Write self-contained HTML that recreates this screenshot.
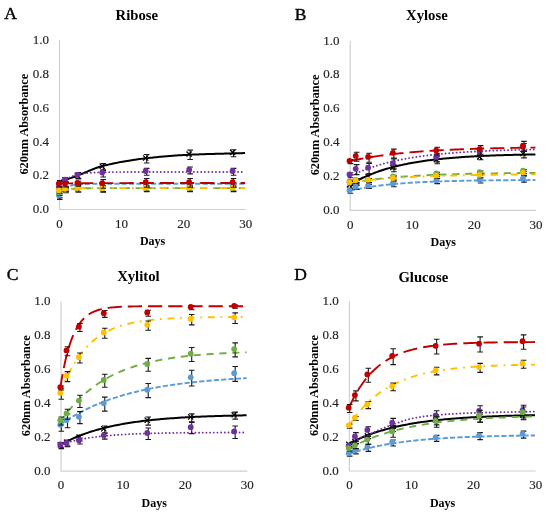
<!DOCTYPE html>
<html><head><meta charset="utf-8"><title>Absorbance charts</title>
<style>
html,body{margin:0;padding:0;background:#fff;}
body{width:550px;height:518px;overflow:hidden;font-family:"Liberation Serif", serif;}
svg{display:block;will-change:transform;}
</style></head>
<body>
<svg width="550" height="518" viewBox="0 0 550 518">
<rect width="550" height="518" fill="#fff"/>
<text x="4.3" y="19.1" font-size="17.5" font-family='"Liberation Serif", serif' fill="#000" stroke="#000" stroke-width="0.4">A</text>
<text x="136.8" y="19.9" font-size="14.7" font-weight="bold" text-anchor="middle" font-family='"Liberation Serif", serif' fill="#000">Ribose</text>
<path d="M59.5 40V209.5H245.7" fill="none" stroke="#d0d0d0" stroke-width="1.2"/>
<text x="48.9" y="213.3" font-size="13" text-anchor="end" font-family='"Liberation Serif", serif' fill="#222222" stroke="#222" stroke-width="0.15">0.0</text>
<text x="48.9" y="179.4" font-size="13" text-anchor="end" font-family='"Liberation Serif", serif' fill="#222222" stroke="#222" stroke-width="0.15">0.2</text>
<text x="48.9" y="145.5" font-size="13" text-anchor="end" font-family='"Liberation Serif", serif' fill="#222222" stroke="#222" stroke-width="0.15">0.4</text>
<text x="48.9" y="111.6" font-size="13" text-anchor="end" font-family='"Liberation Serif", serif' fill="#222222" stroke="#222" stroke-width="0.15">0.6</text>
<text x="48.9" y="77.7" font-size="13" text-anchor="end" font-family='"Liberation Serif", serif' fill="#222222" stroke="#222" stroke-width="0.15">0.8</text>
<text x="48.9" y="43.8" font-size="13" text-anchor="end" font-family='"Liberation Serif", serif' fill="#222222" stroke="#222" stroke-width="0.15">1.0</text>
<text x="59.5" y="227.8" font-size="13" text-anchor="middle" font-family='"Liberation Serif", serif' fill="#222222" stroke="#222" stroke-width="0.15">0</text>
<text x="121.57" y="227.8" font-size="13" text-anchor="middle" font-family='"Liberation Serif", serif' fill="#222222" stroke="#222" stroke-width="0.15">10</text>
<text x="183.63" y="227.8" font-size="13" text-anchor="middle" font-family='"Liberation Serif", serif' fill="#222222" stroke="#222" stroke-width="0.15">20</text>
<text x="245.7" y="227.8" font-size="13" text-anchor="middle" font-family='"Liberation Serif", serif' fill="#222222" stroke="#222" stroke-width="0.15">30</text>
<text x="152.6" y="245.3" font-size="12" font-weight="bold" text-anchor="middle" font-family='"Liberation Serif", serif' fill="#000">Days</text>
<text transform="translate(28.2 124.15) rotate(-90)" font-size="12.3" font-weight="bold" text-anchor="middle" font-family='"Liberation Serif", serif' fill="#000">620nm Absorbance</text>
<path d="M58.8 181.19 L60.35 180.87 L61.9 180.55 L63.45 180.21 L65.01 179.84 L66.56 179.41 L68.11 178.93 L69.66 178.41 L71.21 177.87 L72.77 177.31 L74.32 176.74 L75.87 176.16 L77.42 175.6 L78.97 175.03 L80.52 174.43 L82.07 173.8 L83.63 173.16 L85.18 172.51 L86.73 171.84 L88.28 171.18 L89.83 170.53 L91.38 169.88 L92.94 169.25 L94.49 168.64 L96.04 168.06 L97.59 167.51 L99.14 166.99 L100.69 166.53 L102.25 166.11 L103.8 165.72 L105.35 165.34 L106.9 164.97 L108.45 164.61 L110 164.26 L111.56 163.91 L113.11 163.58 L114.66 163.25 L116.21 162.93 L117.76 162.62 L119.31 162.31 L120.87 162.02 L122.42 161.73 L123.97 161.45 L125.52 161.18 L127.07 160.91 L128.62 160.66 L130.18 160.41 L131.73 160.16 L133.28 159.93 L134.83 159.7 L136.38 159.48 L137.94 159.27 L139.49 159.06 L141.04 158.87 L142.59 158.67 L144.14 158.49 L145.69 158.31 L147.25 158.14 L148.8 157.97 L150.35 157.8 L151.9 157.64 L153.45 157.47 L155 157.31 L156.56 157.16 L158.11 157.01 L159.66 156.86 L161.21 156.71 L162.76 156.57 L164.31 156.43 L165.86 156.3 L167.42 156.17 L168.97 156.04 L170.52 155.91 L172.07 155.79 L173.62 155.68 L175.17 155.57 L176.73 155.46 L178.28 155.35 L179.83 155.26 L181.38 155.16 L182.93 155.07 L184.48 154.98 L186.04 154.9 L187.59 154.82 L189.14 154.75 L190.69 154.68 L192.24 154.62 L193.79 154.55 L195.35 154.49 L196.9 154.43 L198.45 154.38 L200 154.32 L201.55 154.27 L203.1 154.22 L204.66 154.17 L206.21 154.12 L207.76 154.07 L209.31 154.03 L210.86 153.98 L212.41 153.94 L213.97 153.9 L215.52 153.86 L217.07 153.81 L218.62 153.77 L220.17 153.73 L221.72 153.69 L223.28 153.65 L224.83 153.61 L226.38 153.57 L227.93 153.53 L229.48 153.48 L231.03 153.44 L232.59 153.4 L234.14 153.35 L235.69 153.31 L237.24 153.27 L238.79 153.22 L240.34 153.18 L241.9 153.14 L243.45 153.1 L245 153.06" fill="none" stroke="#000000" stroke-width="2.0" stroke-linecap="butt" stroke-linejoin="round"/>
<path d="M59.8 180.46V199.46M57 180.46h5.6M57 199.46h5.6M66.01 178.64V182.64M63.21 178.64h5.6M63.21 182.64h5.6M78.42 174.4V178.4M75.62 174.4h5.6M75.62 178.4h5.6M103.25 163.58V170.58M100.45 163.58h5.6M100.45 170.58h5.6M146.69 154.57V162.97M143.89 154.57h5.6M143.89 162.97h5.6M190.14 150.17V159.57M187.34 150.17h5.6M187.34 159.57h5.6M233.59 149.68V156.68M230.79 149.68h5.6M230.79 156.68h5.6" fill="none" stroke="#1a1a1a" stroke-width="1.1"/>
<path d="M56.2 186.56l5.2 5.2M56.2 191.76l5.2 -5.2" stroke="#000" stroke-width="1.2" fill="none"/>
<path d="M62.41 177.24l5.2 5.2M62.41 182.44l5.2 -5.2" stroke="#000" stroke-width="1.2" fill="none"/>
<path d="M74.82 173l5.2 5.2M74.82 178.2l5.2 -5.2" stroke="#000" stroke-width="1.2" fill="none"/>
<path d="M99.65 163.68l5.2 5.2M99.65 168.88l5.2 -5.2" stroke="#000" stroke-width="1.2" fill="none"/>
<path d="M143.09 155.37l5.2 5.2M143.09 160.57l5.2 -5.2" stroke="#000" stroke-width="1.2" fill="none"/>
<path d="M186.54 151.47l5.2 5.2M186.54 156.67l5.2 -5.2" stroke="#000" stroke-width="1.2" fill="none"/>
<path d="M229.99 149.78l5.2 5.2M229.99 154.98l5.2 -5.2" stroke="#000" stroke-width="1.2" fill="none"/>
<path d="M58.8 187.47 L60.35 185.32 L61.9 183.47 L63.45 181.88 L65.01 180.51 L66.56 179.33 L68.11 178.31 L69.66 177.44 L71.21 176.69 L72.77 176.04 L74.32 175.48 L75.87 175 L77.42 174.59 L78.97 174.24 L80.52 173.93 L82.07 173.67 L83.63 173.44 L85.18 173.24 L86.73 173.08 L88.28 172.93 L89.83 172.81 L91.38 172.7 L92.94 172.61 L94.49 172.53 L96.04 172.46 L97.59 172.4 L99.14 172.35 L100.69 172.31 L102.25 172.27 L103.8 172.24 L105.35 172.21 L106.9 172.19 L108.45 172.17 L110 172.15 L111.56 172.13 L113.11 172.12 L114.66 172.11 L116.21 172.1 L117.76 172.09 L119.31 172.08 L120.87 172.08 L122.42 172.07 L123.97 172.07 L125.52 172.06 L127.07 172.06 L128.62 172.06 L130.18 172.06 L131.73 172.05 L133.28 172.05 L134.83 172.05 L136.38 172.05 L137.94 172.05 L139.49 172.05 L141.04 172.05 L142.59 172.05 L144.14 172.04 L145.69 172.04 L147.25 172.04 L148.8 172.04 L150.35 172.04 L151.9 172.04 L153.45 172.04 L155 172.04 L156.56 172.04 L158.11 172.04 L159.66 172.04 L161.21 172.04 L162.76 172.04 L164.31 172.04 L165.86 172.04 L167.42 172.04 L168.97 172.04 L170.52 172.04 L172.07 172.04 L173.62 172.04 L175.17 172.04 L176.73 172.04 L178.28 172.04 L179.83 172.04 L181.38 172.04 L182.93 172.04 L184.48 172.04 L186.04 172.04 L187.59 172.04 L189.14 172.04 L190.69 172.04 L192.24 172.04 L193.79 172.04 L195.35 172.04 L196.9 172.04 L198.45 172.04 L200 172.04 L201.55 172.04 L203.1 172.04 L204.66 172.04 L206.21 172.04 L207.76 172.04 L209.31 172.04 L210.86 172.04 L212.41 172.04 L213.97 172.04 L215.52 172.04 L217.07 172.04 L218.62 172.04 L220.17 172.04 L221.72 172.04 L223.28 172.04 L224.83 172.04 L226.38 172.04 L227.93 172.04 L229.48 172.04 L231.03 172.04 L232.59 172.04 L234.14 172.04 L235.69 172.04 L237.24 172.04 L238.79 172.04 L240.34 172.04 L241.9 172.04 L243.45 172.04 L245 172.04" fill="none" stroke="#7030A0" stroke-width="1.9" stroke-linecap="round" stroke-linejoin="round" stroke-dasharray="0.01 3.67"/>
<path d="M59.8 186.27V190.27M57 186.27h5.6M57 190.27h5.6M66.01 178.47V182.47M63.21 178.47h5.6M63.21 182.47h5.6M78.42 172.52V178.92M75.62 172.52h5.6M75.62 178.92h5.6M103.25 169.75V176.95M100.45 169.75h5.6M100.45 176.95h5.6M146.69 168.42V175.22M143.89 168.42h5.6M143.89 175.22h5.6M190.14 167.07V173.87M187.34 167.07h5.6M187.34 173.87h5.6M233.59 168.42V175.22M230.79 168.42h5.6M230.79 175.22h5.6" fill="none" stroke="#1a1a1a" stroke-width="1.1"/>
<circle cx="58.8" cy="187.47" r="2.9" fill="#7030A0"/>
<circle cx="65.01" cy="179.67" r="2.9" fill="#7030A0"/>
<circle cx="77.42" cy="174.92" r="2.9" fill="#7030A0"/>
<circle cx="102.25" cy="172.55" r="2.9" fill="#7030A0"/>
<circle cx="145.69" cy="171.02" r="2.9" fill="#7030A0"/>
<circle cx="189.14" cy="169.67" r="2.9" fill="#7030A0"/>
<circle cx="232.59" cy="171.02" r="2.9" fill="#7030A0"/>
<path d="M58.8 194.25 L60.35 192.13 L61.9 190.44 L63.45 189.09 L65.01 188.01 L66.56 187.15 L68.11 186.46 L69.66 185.91 L71.21 185.47 L72.77 185.12 L74.32 184.84 L75.87 184.62 L77.42 184.44 L78.97 184.3 L80.52 184.19 L82.07 184.1 L83.63 184.02 L85.18 183.97 L86.73 183.92 L88.28 183.88 L89.83 183.85 L91.38 183.83 L92.94 183.81 L94.49 183.8 L96.04 183.78 L97.59 183.77 L99.14 183.77 L100.69 183.76 L102.25 183.76 L103.8 183.75 L105.35 183.75 L106.9 183.75 L108.45 183.74 L110 183.74 L111.56 183.74 L113.11 183.74 L114.66 183.74 L116.21 183.74 L117.76 183.74 L119.31 183.74 L120.87 183.74 L122.42 183.74 L123.97 183.74 L125.52 183.74 L127.07 183.74 L128.62 183.74 L130.18 183.74 L131.73 183.74 L133.28 183.74 L134.83 183.74 L136.38 183.74 L137.94 183.74 L139.49 183.74 L141.04 183.74 L142.59 183.74 L144.14 183.74 L145.69 183.74 L147.25 183.74 L148.8 183.74 L150.35 183.74 L151.9 183.74 L153.45 183.74 L155 183.74 L156.56 183.74 L158.11 183.74 L159.66 183.74 L161.21 183.74 L162.76 183.74 L164.31 183.74 L165.86 183.74 L167.42 183.74 L168.97 183.74 L170.52 183.74 L172.07 183.74 L173.62 183.74 L175.17 183.74 L176.73 183.74 L178.28 183.74 L179.83 183.74 L181.38 183.74 L182.93 183.74 L184.48 183.74 L186.04 183.74 L187.59 183.74 L189.14 183.74 L190.69 183.74 L192.24 183.74 L193.79 183.74 L195.35 183.74 L196.9 183.74 L198.45 183.74 L200 183.74 L201.55 183.74 L203.1 183.74 L204.66 183.74 L206.21 183.74 L207.76 183.74 L209.31 183.74 L210.86 183.74 L212.41 183.74 L213.97 183.74 L215.52 183.74 L217.07 183.74 L218.62 183.74 L220.17 183.74 L221.72 183.74 L223.28 183.74 L224.83 183.74 L226.38 183.74 L227.93 183.74 L229.48 183.74 L231.03 183.74 L232.59 183.74 L234.14 183.74 L235.69 183.74 L237.24 183.74 L238.79 183.74 L240.34 183.74 L241.9 183.74 L243.45 183.74 L245 183.74" fill="none" stroke="#5B9BD5" stroke-width="1.9" stroke-linecap="butt" stroke-linejoin="round" stroke-dasharray="5.2 2.15"/>
<path d="M59.8 193.89V197.89M57 193.89h5.6M57 197.89h5.6M66.01 186.27V190.27M63.21 186.27h5.6M63.21 190.27h5.6M78.42 184.57V188.57M75.62 184.57h5.6M75.62 188.57h5.6M103.25 183.21V187.21M100.45 183.21h5.6M100.45 187.21h5.6M146.69 182.88V186.88M143.89 182.88h5.6M143.89 186.88h5.6M190.14 182.88V186.88M187.34 182.88h5.6M187.34 186.88h5.6M233.59 182.88V186.88M230.79 182.88h5.6M230.79 186.88h5.6" fill="none" stroke="#1a1a1a" stroke-width="1.1"/>
<circle cx="58.8" cy="195.09" r="2.9" fill="#5B9BD5"/>
<circle cx="65.01" cy="187.47" r="2.9" fill="#5B9BD5"/>
<circle cx="77.42" cy="185.77" r="2.9" fill="#5B9BD5"/>
<circle cx="102.25" cy="184.41" r="2.9" fill="#5B9BD5"/>
<circle cx="145.69" cy="184.07" r="2.9" fill="#5B9BD5"/>
<circle cx="189.14" cy="184.07" r="2.9" fill="#5B9BD5"/>
<circle cx="232.59" cy="184.07" r="2.9" fill="#5B9BD5"/>
<path d="M58.8 192.55 L60.35 191.75 L61.9 191.1 L63.45 190.56 L65.01 190.12 L66.56 189.76 L68.11 189.47 L69.66 189.23 L71.21 189.03 L72.77 188.87 L74.32 188.74 L75.87 188.63 L77.42 188.54 L78.97 188.47 L80.52 188.41 L82.07 188.36 L83.63 188.32 L85.18 188.29 L86.73 188.26 L88.28 188.24 L89.83 188.22 L91.38 188.21 L92.94 188.2 L94.49 188.19 L96.04 188.18 L97.59 188.17 L99.14 188.17 L100.69 188.16 L102.25 188.16 L103.8 188.16 L105.35 188.15 L106.9 188.15 L108.45 188.15 L110 188.15 L111.56 188.15 L113.11 188.15 L114.66 188.15 L116.21 188.15 L117.76 188.15 L119.31 188.14 L120.87 188.14 L122.42 188.14 L123.97 188.14 L125.52 188.14 L127.07 188.14 L128.62 188.14 L130.18 188.14 L131.73 188.14 L133.28 188.14 L134.83 188.14 L136.38 188.14 L137.94 188.14 L139.49 188.14 L141.04 188.14 L142.59 188.14 L144.14 188.14 L145.69 188.14 L147.25 188.14 L148.8 188.14 L150.35 188.14 L151.9 188.14 L153.45 188.14 L155 188.14 L156.56 188.14 L158.11 188.14 L159.66 188.14 L161.21 188.14 L162.76 188.14 L164.31 188.14 L165.86 188.14 L167.42 188.14 L168.97 188.14 L170.52 188.14 L172.07 188.14 L173.62 188.14 L175.17 188.14 L176.73 188.14 L178.28 188.14 L179.83 188.14 L181.38 188.14 L182.93 188.14 L184.48 188.14 L186.04 188.14 L187.59 188.14 L189.14 188.14 L190.69 188.14 L192.24 188.14 L193.79 188.14 L195.35 188.14 L196.9 188.14 L198.45 188.14 L200 188.14 L201.55 188.14 L203.1 188.14 L204.66 188.14 L206.21 188.14 L207.76 188.14 L209.31 188.14 L210.86 188.14 L212.41 188.14 L213.97 188.14 L215.52 188.14 L217.07 188.14 L218.62 188.14 L220.17 188.14 L221.72 188.14 L223.28 188.14 L224.83 188.14 L226.38 188.14 L227.93 188.14 L229.48 188.14 L231.03 188.14 L232.59 188.14 L234.14 188.14 L235.69 188.14 L237.24 188.14 L238.79 188.14 L240.34 188.14 L241.9 188.14 L243.45 188.14 L245 188.14" fill="none" stroke="#70AD47" stroke-width="1.9" stroke-linecap="butt" stroke-linejoin="round" stroke-dasharray="7.2 5.7"/>
<path d="M59.8 191.52V195.52M57 191.52h5.6M57 195.52h5.6M66.01 188.81V192.81M63.21 188.81h5.6M63.21 192.81h5.6M78.42 187.96V191.96M75.62 187.96h5.6M75.62 191.96h5.6M103.25 187.62V191.62M100.45 187.62h5.6M100.45 191.62h5.6M146.69 187.11V191.11M143.89 187.11h5.6M143.89 191.11h5.6M190.14 187.11V191.11M187.34 187.11h5.6M187.34 191.11h5.6M233.59 187.11V191.11M230.79 187.11h5.6M230.79 191.11h5.6" fill="none" stroke="#1a1a1a" stroke-width="1.1"/>
<circle cx="58.8" cy="192.72" r="2.9" fill="#70AD47"/>
<circle cx="65.01" cy="190.01" r="2.9" fill="#70AD47"/>
<circle cx="77.42" cy="189.16" r="2.9" fill="#70AD47"/>
<circle cx="102.25" cy="188.82" r="2.9" fill="#70AD47"/>
<circle cx="145.69" cy="188.31" r="2.9" fill="#70AD47"/>
<circle cx="189.14" cy="188.31" r="2.9" fill="#70AD47"/>
<circle cx="232.59" cy="188.31" r="2.9" fill="#70AD47"/>
<path d="M58.8 190.18 L60.35 189.87 L61.9 189.61 L63.45 189.38 L65.01 189.18 L66.56 189.01 L68.11 188.87 L69.66 188.74 L71.21 188.64 L72.77 188.54 L74.32 188.47 L75.87 188.4 L77.42 188.34 L78.97 188.29 L80.52 188.24 L82.07 188.21 L83.63 188.17 L85.18 188.15 L86.73 188.12 L88.28 188.1 L89.83 188.08 L91.38 188.07 L92.94 188.05 L94.49 188.04 L96.04 188.03 L97.59 188.03 L99.14 188.02 L100.69 188.01 L102.25 188.01 L103.8 188 L105.35 188 L106.9 187.99 L108.45 187.99 L110 187.99 L111.56 187.99 L113.11 187.99 L114.66 187.98 L116.21 187.98 L117.76 187.98 L119.31 187.98 L120.87 187.98 L122.42 187.98 L123.97 187.98 L125.52 187.98 L127.07 187.98 L128.62 187.98 L130.18 187.98 L131.73 187.98 L133.28 187.98 L134.83 187.97 L136.38 187.97 L137.94 187.97 L139.49 187.97 L141.04 187.97 L142.59 187.97 L144.14 187.97 L145.69 187.97 L147.25 187.97 L148.8 187.97 L150.35 187.97 L151.9 187.97 L153.45 187.97 L155 187.97 L156.56 187.97 L158.11 187.97 L159.66 187.97 L161.21 187.97 L162.76 187.97 L164.31 187.97 L165.86 187.97 L167.42 187.97 L168.97 187.97 L170.52 187.97 L172.07 187.97 L173.62 187.97 L175.17 187.97 L176.73 187.97 L178.28 187.97 L179.83 187.97 L181.38 187.97 L182.93 187.97 L184.48 187.97 L186.04 187.97 L187.59 187.97 L189.14 187.97 L190.69 187.97 L192.24 187.97 L193.79 187.97 L195.35 187.97 L196.9 187.97 L198.45 187.97 L200 187.97 L201.55 187.97 L203.1 187.97 L204.66 187.97 L206.21 187.97 L207.76 187.97 L209.31 187.97 L210.86 187.97 L212.41 187.97 L213.97 187.97 L215.52 187.97 L217.07 187.97 L218.62 187.97 L220.17 187.97 L221.72 187.97 L223.28 187.97 L224.83 187.97 L226.38 187.97 L227.93 187.97 L229.48 187.97 L231.03 187.97 L232.59 187.97 L234.14 187.97 L235.69 187.97 L237.24 187.97 L238.79 187.97 L240.34 187.97 L241.9 187.97 L243.45 187.97 L245 187.97" fill="none" stroke="#FFC000" stroke-width="1.9" stroke-linecap="butt" stroke-linejoin="round" stroke-dasharray="7 5.7 1.8 5.7"/>
<path d="M59.8 188.98V192.98M57 188.98h5.6M57 192.98h5.6M66.01 187.62V191.62M63.21 187.62h5.6M63.21 191.62h5.6M78.42 185.57V191.97M75.62 185.57h5.6M75.62 191.97h5.6M103.25 185.74V192.14M100.45 185.74h5.6M100.45 192.14h5.6M146.69 185.23V191.63M143.89 185.23h5.6M143.89 191.63h5.6M190.14 185.23V191.63M187.34 185.23h5.6M187.34 191.63h5.6M233.59 185.23V191.63M230.79 185.23h5.6M230.79 191.63h5.6" fill="none" stroke="#1a1a1a" stroke-width="1.1"/>
<circle cx="58.8" cy="190.18" r="2.9" fill="#FFC000"/>
<circle cx="65.01" cy="188.82" r="2.9" fill="#FFC000"/>
<circle cx="77.42" cy="187.97" r="2.9" fill="#FFC000"/>
<circle cx="102.25" cy="188.14" r="2.9" fill="#FFC000"/>
<circle cx="145.69" cy="187.63" r="2.9" fill="#FFC000"/>
<circle cx="189.14" cy="187.63" r="2.9" fill="#FFC000"/>
<circle cx="232.59" cy="187.63" r="2.9" fill="#FFC000"/>
<path d="M58.8 183.57 L60.35 183.53 L61.9 183.5 L63.45 183.46 L65.01 183.43 L66.56 183.41 L68.11 183.38 L69.66 183.36 L71.21 183.34 L72.77 183.32 L74.32 183.3 L75.87 183.28 L77.42 183.26 L78.97 183.25 L80.52 183.24 L82.07 183.22 L83.63 183.21 L85.18 183.2 L86.73 183.19 L88.28 183.18 L89.83 183.17 L91.38 183.16 L92.94 183.16 L94.49 183.15 L96.04 183.14 L97.59 183.14 L99.14 183.13 L100.69 183.13 L102.25 183.12 L103.8 183.12 L105.35 183.11 L106.9 183.11 L108.45 183.1 L110 183.1 L111.56 183.1 L113.11 183.09 L114.66 183.09 L116.21 183.09 L117.76 183.09 L119.31 183.09 L120.87 183.08 L122.42 183.08 L123.97 183.08 L125.52 183.08 L127.07 183.08 L128.62 183.08 L130.18 183.07 L131.73 183.07 L133.28 183.07 L134.83 183.07 L136.38 183.07 L137.94 183.07 L139.49 183.07 L141.04 183.07 L142.59 183.07 L144.14 183.07 L145.69 183.07 L147.25 183.07 L148.8 183.06 L150.35 183.06 L151.9 183.06 L153.45 183.06 L155 183.06 L156.56 183.06 L158.11 183.06 L159.66 183.06 L161.21 183.06 L162.76 183.06 L164.31 183.06 L165.86 183.06 L167.42 183.06 L168.97 183.06 L170.52 183.06 L172.07 183.06 L173.62 183.06 L175.17 183.06 L176.73 183.06 L178.28 183.06 L179.83 183.06 L181.38 183.06 L182.93 183.06 L184.48 183.06 L186.04 183.06 L187.59 183.06 L189.14 183.06 L190.69 183.06 L192.24 183.06 L193.79 183.06 L195.35 183.06 L196.9 183.06 L198.45 183.06 L200 183.06 L201.55 183.06 L203.1 183.06 L204.66 183.06 L206.21 183.06 L207.76 183.06 L209.31 183.06 L210.86 183.06 L212.41 183.06 L213.97 183.06 L215.52 183.06 L217.07 183.06 L218.62 183.06 L220.17 183.06 L221.72 183.06 L223.28 183.06 L224.83 183.06 L226.38 183.06 L227.93 183.06 L229.48 183.06 L231.03 183.06 L232.59 183.06 L234.14 183.06 L235.69 183.06 L237.24 183.06 L238.79 183.06 L240.34 183.06 L241.9 183.06 L243.45 183.06 L245 183.06" fill="none" stroke="#C00000" stroke-width="1.9" stroke-linecap="butt" stroke-linejoin="round" stroke-dasharray="14.2 6"/>
<path d="M59.8 181.87V186.87M57 181.87h5.6M57 186.87h5.6M66.01 181.87V186.87M63.21 181.87h5.6M63.21 186.87h5.6M78.42 181.19V186.19M75.62 181.19h5.6M75.62 186.19h5.6M103.25 179.46V188.26M100.45 179.46h5.6M100.45 188.26h5.6M146.69 178.44V187.24M143.89 178.44h5.6M143.89 187.24h5.6M190.14 178.44V187.24M187.34 178.44h5.6M187.34 187.24h5.6M233.59 178.44V187.24M230.79 178.44h5.6M230.79 187.24h5.6" fill="none" stroke="#1a1a1a" stroke-width="1.1"/>
<circle cx="58.8" cy="183.57" r="2.9" fill="#C00000"/>
<circle cx="65.01" cy="183.57" r="2.9" fill="#C00000"/>
<circle cx="77.42" cy="182.89" r="2.9" fill="#C00000"/>
<circle cx="102.25" cy="183.06" r="2.9" fill="#C00000"/>
<circle cx="145.69" cy="182.04" r="2.9" fill="#C00000"/>
<circle cx="189.14" cy="182.04" r="2.9" fill="#C00000"/>
<circle cx="232.59" cy="182.04" r="2.9" fill="#C00000"/>
<text x="294.8" y="19.6" font-size="17.5" font-family='"Liberation Serif", serif' fill="#000" stroke="#000" stroke-width="0.4">B</text>
<text x="426.9" y="20.1" font-size="14.7" font-weight="bold" text-anchor="middle" font-family='"Liberation Serif", serif' fill="#000">Xylose</text>
<path d="M350.2 40.7V210.4H536.1" fill="none" stroke="#d0d0d0" stroke-width="1.2"/>
<text x="339.6" y="214.2" font-size="13" text-anchor="end" font-family='"Liberation Serif", serif' fill="#222222" stroke="#222" stroke-width="0.15">0.0</text>
<text x="339.6" y="180.26" font-size="13" text-anchor="end" font-family='"Liberation Serif", serif' fill="#222222" stroke="#222" stroke-width="0.15">0.2</text>
<text x="339.6" y="146.32" font-size="13" text-anchor="end" font-family='"Liberation Serif", serif' fill="#222222" stroke="#222" stroke-width="0.15">0.4</text>
<text x="339.6" y="112.38" font-size="13" text-anchor="end" font-family='"Liberation Serif", serif' fill="#222222" stroke="#222" stroke-width="0.15">0.6</text>
<text x="339.6" y="78.44" font-size="13" text-anchor="end" font-family='"Liberation Serif", serif' fill="#222222" stroke="#222" stroke-width="0.15">0.8</text>
<text x="339.6" y="44.5" font-size="13" text-anchor="end" font-family='"Liberation Serif", serif' fill="#222222" stroke="#222" stroke-width="0.15">1.0</text>
<text x="350.2" y="228.7" font-size="13" text-anchor="middle" font-family='"Liberation Serif", serif' fill="#222222" stroke="#222" stroke-width="0.15">0</text>
<text x="412.17" y="228.7" font-size="13" text-anchor="middle" font-family='"Liberation Serif", serif' fill="#222222" stroke="#222" stroke-width="0.15">10</text>
<text x="474.13" y="228.7" font-size="13" text-anchor="middle" font-family='"Liberation Serif", serif' fill="#222222" stroke="#222" stroke-width="0.15">20</text>
<text x="536.1" y="228.7" font-size="13" text-anchor="middle" font-family='"Liberation Serif", serif' fill="#222222" stroke="#222" stroke-width="0.15">30</text>
<text x="443.15" y="246.2" font-size="12" font-weight="bold" text-anchor="middle" font-family='"Liberation Serif", serif' fill="#000">Days</text>
<text transform="translate(318.9 124.95) rotate(-90)" font-size="12.3" font-weight="bold" text-anchor="middle" font-family='"Liberation Serif", serif' fill="#000">620nm Absorbance</text>
<path d="M349.5 184.94 L351.05 184.02 L352.6 183.12 L354.15 182.24 L355.7 181.39 L357.25 180.57 L358.8 179.77 L360.34 179 L361.89 178.25 L363.44 177.52 L364.99 176.81 L366.54 176.12 L368.09 175.45 L369.64 174.81 L371.19 174.18 L372.74 173.57 L374.29 172.98 L375.84 172.4 L377.38 171.85 L378.93 171.3 L380.48 170.78 L382.03 170.27 L383.58 169.78 L385.13 169.3 L386.68 168.83 L388.23 168.38 L389.78 167.94 L391.33 167.52 L392.88 167.1 L394.43 166.7 L395.98 166.31 L397.52 165.94 L399.07 165.57 L400.62 165.22 L402.17 164.87 L403.72 164.54 L405.27 164.21 L406.82 163.9 L408.37 163.59 L409.92 163.29 L411.47 163.01 L413.02 162.73 L414.56 162.46 L416.11 162.19 L417.66 161.94 L419.21 161.69 L420.76 161.45 L422.31 161.22 L423.86 160.99 L425.41 160.77 L426.96 160.56 L428.51 160.35 L430.06 160.15 L431.61 159.95 L433.16 159.76 L434.7 159.58 L436.25 159.4 L437.8 159.23 L439.35 159.06 L440.9 158.9 L442.45 158.74 L444 158.59 L445.55 158.44 L447.1 158.29 L448.65 158.15 L450.2 158.02 L451.75 157.89 L453.29 157.76 L454.84 157.63 L456.39 157.51 L457.94 157.39 L459.49 157.28 L461.04 157.17 L462.59 157.06 L464.14 156.96 L465.69 156.86 L467.24 156.76 L468.79 156.67 L470.34 156.57 L471.88 156.49 L473.43 156.4 L474.98 156.31 L476.53 156.23 L478.08 156.15 L479.63 156.08 L481.18 156 L482.73 155.93 L484.28 155.86 L485.83 155.79 L487.38 155.72 L488.93 155.66 L490.47 155.6 L492.02 155.54 L493.57 155.48 L495.12 155.42 L496.67 155.37 L498.22 155.31 L499.77 155.26 L501.32 155.21 L502.87 155.16 L504.42 155.11 L505.97 155.07 L507.52 155.02 L509.06 154.98 L510.61 154.94 L512.16 154.9 L513.71 154.86 L515.26 154.82 L516.81 154.78 L518.36 154.74 L519.91 154.71 L521.46 154.67 L523.01 154.64 L524.56 154.61 L526.11 154.58 L527.65 154.55 L529.2 154.52 L530.75 154.49 L532.3 154.46 L533.85 154.43 L535.4 154.41" fill="none" stroke="#000000" stroke-width="2.0" stroke-linecap="butt" stroke-linejoin="round"/>
<path d="M350.5 183.25V188.25M347.7 183.25h5.6M347.7 188.25h5.6M356.7 179.85V184.85M353.9 179.85h5.6M353.9 184.85h5.6M369.09 174.76V179.76M366.29 174.76h5.6M366.29 179.76h5.6M393.88 164.77V171.77M391.08 164.77h5.6M391.08 171.77h5.6M437.25 156.79V163.79M434.45 156.79h5.6M434.45 163.79h5.6M480.63 155.74V159.74M477.83 155.74h5.6M477.83 159.74h5.6M524.01 150.85V157.85M521.21 150.85h5.6M521.21 157.85h5.6" fill="none" stroke="#1a1a1a" stroke-width="1.1"/>
<path d="M346.9 182.34l5.2 5.2M346.9 187.54l5.2 -5.2" stroke="#000" stroke-width="1.2" fill="none"/>
<path d="M353.1 178.95l5.2 5.2M353.1 184.15l5.2 -5.2" stroke="#000" stroke-width="1.2" fill="none"/>
<path d="M365.49 173.86l5.2 5.2M365.49 179.06l5.2 -5.2" stroke="#000" stroke-width="1.2" fill="none"/>
<path d="M390.28 164.87l5.2 5.2M390.28 170.07l5.2 -5.2" stroke="#000" stroke-width="1.2" fill="none"/>
<path d="M433.65 156.89l5.2 5.2M433.65 162.09l5.2 -5.2" stroke="#000" stroke-width="1.2" fill="none"/>
<path d="M477.03 154.34l5.2 5.2M477.03 159.54l5.2 -5.2" stroke="#000" stroke-width="1.2" fill="none"/>
<path d="M520.41 150.95l5.2 5.2M520.41 156.15l5.2 -5.2" stroke="#000" stroke-width="1.2" fill="none"/>
<path d="M349.5 176.46 L351.05 175.7 L352.6 174.96 L354.15 174.24 L355.7 173.54 L357.25 172.86 L358.8 172.2 L360.34 171.56 L361.89 170.93 L363.44 170.32 L364.99 169.73 L366.54 169.15 L368.09 168.59 L369.64 168.04 L371.19 167.51 L372.74 167 L374.29 166.49 L375.84 166 L377.38 165.53 L378.93 165.06 L380.48 164.61 L382.03 164.18 L383.58 163.75 L385.13 163.34 L386.68 162.93 L388.23 162.54 L389.78 162.16 L391.33 161.79 L392.88 161.42 L394.43 161.07 L395.98 160.73 L397.52 160.4 L399.07 160.07 L400.62 159.76 L402.17 159.45 L403.72 159.15 L405.27 158.86 L406.82 158.58 L408.37 158.31 L409.92 158.04 L411.47 157.78 L413.02 157.53 L414.56 157.28 L416.11 157.04 L417.66 156.81 L419.21 156.58 L420.76 156.36 L422.31 156.15 L423.86 155.94 L425.41 155.74 L426.96 155.54 L428.51 155.35 L430.06 155.16 L431.61 154.98 L433.16 154.8 L434.7 154.63 L436.25 154.46 L437.8 154.3 L439.35 154.14 L440.9 153.99 L442.45 153.84 L444 153.69 L445.55 153.55 L447.1 153.41 L448.65 153.28 L450.2 153.15 L451.75 153.02 L453.29 152.9 L454.84 152.78 L456.39 152.66 L457.94 152.54 L459.49 152.43 L461.04 152.33 L462.59 152.22 L464.14 152.12 L465.69 152.02 L467.24 151.92 L468.79 151.83 L470.34 151.74 L471.88 151.65 L473.43 151.56 L474.98 151.48 L476.53 151.4 L478.08 151.32 L479.63 151.24 L481.18 151.16 L482.73 151.09 L484.28 151.02 L485.83 150.95 L487.38 150.88 L488.93 150.82 L490.47 150.75 L492.02 150.69 L493.57 150.63 L495.12 150.57 L496.67 150.51 L498.22 150.46 L499.77 150.4 L501.32 150.35 L502.87 150.3 L504.42 150.25 L505.97 150.2 L507.52 150.15 L509.06 150.11 L510.61 150.06 L512.16 150.02 L513.71 149.98 L515.26 149.94 L516.81 149.9 L518.36 149.86 L519.91 149.82 L521.46 149.78 L523.01 149.75 L524.56 149.71 L526.11 149.68 L527.65 149.64 L529.2 149.61 L530.75 149.58 L532.3 149.55 L533.85 149.52 L535.4 149.49" fill="none" stroke="#7030A0" stroke-width="1.9" stroke-linecap="round" stroke-linejoin="round" stroke-dasharray="0.01 3.67"/>
<path d="M350.5 172.72V177.72M347.7 172.72h5.6M347.7 177.72h5.6M356.7 164.62V174.62M353.9 164.62h5.6M353.9 174.62h5.6M369.09 163.44V173.44M366.29 163.44h5.6M366.29 173.44h5.6M393.88 158.85V168.85M391.08 158.85h5.6M391.08 168.85h5.6M437.25 153.91V161.91M434.45 153.91h5.6M434.45 161.91h5.6M480.63 148.48V156.48M477.83 148.48h5.6M477.83 156.48h5.6M524.01 143.56V151.56M521.21 143.56h5.6M521.21 151.56h5.6" fill="none" stroke="#1a1a1a" stroke-width="1.1"/>
<circle cx="349.5" cy="174.42" r="2.9" fill="#7030A0"/>
<circle cx="355.7" cy="168.82" r="2.9" fill="#7030A0"/>
<circle cx="368.09" cy="167.64" r="2.9" fill="#7030A0"/>
<circle cx="392.88" cy="163.05" r="2.9" fill="#7030A0"/>
<circle cx="436.25" cy="157.11" r="2.9" fill="#7030A0"/>
<circle cx="479.63" cy="151.68" r="2.9" fill="#7030A0"/>
<circle cx="523.01" cy="146.76" r="2.9" fill="#7030A0"/>
<path d="M349.5 190.88 L351.05 190.52 L352.6 190.16 L354.15 189.82 L355.7 189.49 L357.25 189.17 L358.8 188.86 L360.34 188.56 L361.89 188.27 L363.44 188 L364.99 187.72 L366.54 187.46 L368.09 187.21 L369.64 186.97 L371.19 186.73 L372.74 186.5 L374.29 186.28 L375.84 186.07 L377.38 185.86 L378.93 185.66 L380.48 185.47 L382.03 185.28 L383.58 185.1 L385.13 184.93 L386.68 184.76 L388.23 184.6 L389.78 184.44 L391.33 184.29 L392.88 184.14 L394.43 184 L395.98 183.86 L397.52 183.73 L399.07 183.6 L400.62 183.48 L402.17 183.36 L403.72 183.24 L405.27 183.13 L406.82 183.02 L408.37 182.91 L409.92 182.81 L411.47 182.71 L413.02 182.62 L414.56 182.53 L416.11 182.44 L417.66 182.35 L419.21 182.27 L420.76 182.19 L422.31 182.11 L423.86 182.04 L425.41 181.96 L426.96 181.89 L428.51 181.83 L430.06 181.76 L431.61 181.7 L433.16 181.64 L434.7 181.58 L436.25 181.52 L437.8 181.47 L439.35 181.41 L440.9 181.36 L442.45 181.31 L444 181.26 L445.55 181.21 L447.1 181.17 L448.65 181.13 L450.2 181.08 L451.75 181.04 L453.29 181 L454.84 180.97 L456.39 180.93 L457.94 180.89 L459.49 180.86 L461.04 180.83 L462.59 180.79 L464.14 180.76 L465.69 180.73 L467.24 180.7 L468.79 180.67 L470.34 180.65 L471.88 180.62 L473.43 180.6 L474.98 180.57 L476.53 180.55 L478.08 180.52 L479.63 180.5 L481.18 180.48 L482.73 180.46 L484.28 180.44 L485.83 180.42 L487.38 180.4 L488.93 180.38 L490.47 180.37 L492.02 180.35 L493.57 180.33 L495.12 180.32 L496.67 180.3 L498.22 180.29 L499.77 180.27 L501.32 180.26 L502.87 180.24 L504.42 180.23 L505.97 180.22 L507.52 180.21 L509.06 180.2 L510.61 180.18 L512.16 180.17 L513.71 180.16 L515.26 180.15 L516.81 180.14 L518.36 180.13 L519.91 180.12 L521.46 180.11 L523.01 180.11 L524.56 180.1 L526.11 180.09 L527.65 180.08 L529.2 180.07 L530.75 180.07 L532.3 180.06 L533.85 180.05 L535.4 180.05" fill="none" stroke="#5B9BD5" stroke-width="1.9" stroke-linecap="butt" stroke-linejoin="round" stroke-dasharray="5.2 2.15"/>
<path d="M350.5 189.18V193.18M347.7 189.18h5.6M347.7 193.18h5.6M356.7 185.44V189.44M353.9 185.44h5.6M353.9 189.44h5.6M369.09 184.42V188.42M366.29 184.42h5.6M366.29 188.42h5.6M393.88 181.72V186.72M391.08 181.72h5.6M391.08 186.72h5.6M437.25 178.66V183.66M434.45 178.66h5.6M434.45 183.66h5.6M480.63 177.98V182.98M477.83 177.98h5.6M477.83 182.98h5.6M524.01 176.13V182.13M521.21 176.13h5.6M521.21 182.13h5.6" fill="none" stroke="#1a1a1a" stroke-width="1.1"/>
<circle cx="349.5" cy="190.38" r="2.9" fill="#5B9BD5"/>
<circle cx="355.7" cy="186.64" r="2.9" fill="#5B9BD5"/>
<circle cx="368.09" cy="185.62" r="2.9" fill="#5B9BD5"/>
<circle cx="392.88" cy="183.42" r="2.9" fill="#5B9BD5"/>
<circle cx="436.25" cy="180.36" r="2.9" fill="#5B9BD5"/>
<circle cx="479.63" cy="179.68" r="2.9" fill="#5B9BD5"/>
<circle cx="523.01" cy="178.33" r="2.9" fill="#5B9BD5"/>
<path d="M349.5 183.25 L351.05 182.95 L352.6 182.67 L354.15 182.39 L355.7 182.12 L357.25 181.85 L358.8 181.59 L360.34 181.35 L361.89 181.1 L363.44 180.87 L364.99 180.64 L366.54 180.41 L368.09 180.2 L369.64 179.99 L371.19 179.78 L372.74 179.58 L374.29 179.39 L375.84 179.2 L377.38 179.02 L378.93 178.84 L380.48 178.66 L382.03 178.5 L383.58 178.33 L385.13 178.17 L386.68 178.02 L388.23 177.87 L389.78 177.72 L391.33 177.58 L392.88 177.44 L394.43 177.3 L395.98 177.17 L397.52 177.04 L399.07 176.92 L400.62 176.8 L402.17 176.68 L403.72 176.57 L405.27 176.46 L406.82 176.35 L408.37 176.25 L409.92 176.14 L411.47 176.05 L413.02 175.95 L414.56 175.86 L416.11 175.76 L417.66 175.68 L419.21 175.59 L420.76 175.51 L422.31 175.42 L423.86 175.35 L425.41 175.27 L426.96 175.19 L428.51 175.12 L430.06 175.05 L431.61 174.98 L433.16 174.91 L434.7 174.85 L436.25 174.79 L437.8 174.72 L439.35 174.66 L440.9 174.61 L442.45 174.55 L444 174.49 L445.55 174.44 L447.1 174.39 L448.65 174.34 L450.2 174.29 L451.75 174.24 L453.29 174.19 L454.84 174.15 L456.39 174.11 L457.94 174.06 L459.49 174.02 L461.04 173.98 L462.59 173.94 L464.14 173.9 L465.69 173.87 L467.24 173.83 L468.79 173.79 L470.34 173.76 L471.88 173.73 L473.43 173.7 L474.98 173.66 L476.53 173.63 L478.08 173.6 L479.63 173.57 L481.18 173.55 L482.73 173.52 L484.28 173.49 L485.83 173.47 L487.38 173.44 L488.93 173.42 L490.47 173.39 L492.02 173.37 L493.57 173.35 L495.12 173.33 L496.67 173.3 L498.22 173.28 L499.77 173.26 L501.32 173.24 L502.87 173.23 L504.42 173.21 L505.97 173.19 L507.52 173.17 L509.06 173.15 L510.61 173.14 L512.16 173.12 L513.71 173.11 L515.26 173.09 L516.81 173.08 L518.36 173.06 L519.91 173.05 L521.46 173.03 L523.01 173.02 L524.56 173.01 L526.11 173 L527.65 172.98 L529.2 172.97 L530.75 172.96 L532.3 172.95 L533.85 172.94 L535.4 172.93" fill="none" stroke="#70AD47" stroke-width="1.9" stroke-linecap="butt" stroke-linejoin="round" stroke-dasharray="7.2 5.7"/>
<path d="M350.5 180.35V184.35M347.7 180.35h5.6M347.7 184.35h5.6M356.7 178.65V182.65M353.9 178.65h5.6M353.9 182.65h5.6M369.09 178.65V182.65M366.29 178.65h5.6M366.29 182.65h5.6M393.88 175.26V179.26M391.08 175.26h5.6M391.08 179.26h5.6M437.25 172.21V176.21M434.45 172.21h5.6M434.45 176.21h5.6M480.63 171.02V175.02M477.83 171.02h5.6M477.83 175.02h5.6M524.01 169.49V173.49M521.21 169.49h5.6M521.21 173.49h5.6" fill="none" stroke="#1a1a1a" stroke-width="1.1"/>
<circle cx="349.5" cy="181.55" r="2.9" fill="#70AD47"/>
<circle cx="355.7" cy="179.85" r="2.9" fill="#70AD47"/>
<circle cx="368.09" cy="179.85" r="2.9" fill="#70AD47"/>
<circle cx="392.88" cy="176.46" r="2.9" fill="#70AD47"/>
<circle cx="436.25" cy="173.41" r="2.9" fill="#70AD47"/>
<circle cx="479.63" cy="172.22" r="2.9" fill="#70AD47"/>
<circle cx="523.01" cy="170.69" r="2.9" fill="#70AD47"/>
<path d="M349.5 182.4 L351.05 182.19 L352.6 181.99 L354.15 181.79 L355.7 181.59 L357.25 181.4 L358.8 181.22 L360.34 181.04 L361.89 180.86 L363.44 180.69 L364.99 180.52 L366.54 180.36 L368.09 180.2 L369.64 180.05 L371.19 179.89 L372.74 179.75 L374.29 179.6 L375.84 179.46 L377.38 179.32 L378.93 179.19 L380.48 179.06 L382.03 178.93 L383.58 178.81 L385.13 178.69 L386.68 178.57 L388.23 178.46 L389.78 178.34 L391.33 178.23 L392.88 178.13 L394.43 178.02 L395.98 177.92 L397.52 177.82 L399.07 177.73 L400.62 177.63 L402.17 177.54 L403.72 177.45 L405.27 177.36 L406.82 177.28 L408.37 177.2 L409.92 177.11 L411.47 177.04 L413.02 176.96 L414.56 176.88 L416.11 176.81 L417.66 176.74 L419.21 176.67 L420.76 176.6 L422.31 176.53 L423.86 176.47 L425.41 176.41 L426.96 176.35 L428.51 176.29 L430.06 176.23 L431.61 176.17 L433.16 176.11 L434.7 176.06 L436.25 176.01 L437.8 175.96 L439.35 175.9 L440.9 175.86 L442.45 175.81 L444 175.76 L445.55 175.72 L447.1 175.67 L448.65 175.63 L450.2 175.59 L451.75 175.54 L453.29 175.5 L454.84 175.46 L456.39 175.43 L457.94 175.39 L459.49 175.35 L461.04 175.32 L462.59 175.28 L464.14 175.25 L465.69 175.22 L467.24 175.18 L468.79 175.15 L470.34 175.12 L471.88 175.09 L473.43 175.06 L474.98 175.03 L476.53 175.01 L478.08 174.98 L479.63 174.95 L481.18 174.93 L482.73 174.9 L484.28 174.88 L485.83 174.85 L487.38 174.83 L488.93 174.81 L490.47 174.79 L492.02 174.77 L493.57 174.74 L495.12 174.72 L496.67 174.7 L498.22 174.68 L499.77 174.67 L501.32 174.65 L502.87 174.63 L504.42 174.61 L505.97 174.59 L507.52 174.58 L509.06 174.56 L510.61 174.54 L512.16 174.53 L513.71 174.51 L515.26 174.5 L516.81 174.48 L518.36 174.47 L519.91 174.46 L521.46 174.44 L523.01 174.43 L524.56 174.42 L526.11 174.41 L527.65 174.39 L529.2 174.38 L530.75 174.37 L532.3 174.36 L533.85 174.35 L535.4 174.34" fill="none" stroke="#FFC000" stroke-width="1.9" stroke-linecap="butt" stroke-linejoin="round" stroke-dasharray="7 5.7 1.8 5.7"/>
<path d="M350.5 181.37V185.37M347.7 181.37h5.6M347.7 185.37h5.6M356.7 179.16V183.16M353.9 179.16h5.6M353.9 183.16h5.6M369.09 178.48V182.48M366.29 178.48h5.6M366.29 182.48h5.6M393.88 176.79V180.79M391.08 176.79h5.6M391.08 180.79h5.6M437.25 174.41V178.41M434.45 174.41h5.6M434.45 178.41h5.6M480.63 173.73V177.73M477.83 173.73h5.6M477.83 177.73h5.6M524.01 171.36V175.36M521.21 171.36h5.6M521.21 175.36h5.6" fill="none" stroke="#1a1a1a" stroke-width="1.1"/>
<circle cx="349.5" cy="182.57" r="2.9" fill="#FFC000"/>
<circle cx="355.7" cy="180.36" r="2.9" fill="#FFC000"/>
<circle cx="368.09" cy="179.68" r="2.9" fill="#FFC000"/>
<circle cx="392.88" cy="177.99" r="2.9" fill="#FFC000"/>
<circle cx="436.25" cy="175.61" r="2.9" fill="#FFC000"/>
<circle cx="479.63" cy="174.93" r="2.9" fill="#FFC000"/>
<circle cx="523.01" cy="172.56" r="2.9" fill="#FFC000"/>
<path d="M349.5 161.19 L351.05 160.84 L352.6 160.51 L354.15 160.18 L355.7 159.86 L357.25 159.55 L358.8 159.24 L360.34 158.95 L361.89 158.66 L363.44 158.37 L364.99 158.1 L366.54 157.82 L368.09 157.56 L369.64 157.3 L371.19 157.05 L372.74 156.81 L374.29 156.57 L375.84 156.33 L377.38 156.11 L378.93 155.88 L380.48 155.67 L382.03 155.45 L383.58 155.25 L385.13 155.04 L386.68 154.85 L388.23 154.65 L389.78 154.47 L391.33 154.28 L392.88 154.1 L394.43 153.93 L395.98 153.76 L397.52 153.59 L399.07 153.43 L400.62 153.27 L402.17 153.11 L403.72 152.96 L405.27 152.81 L406.82 152.67 L408.37 152.53 L409.92 152.39 L411.47 152.26 L413.02 152.13 L414.56 152 L416.11 151.87 L417.66 151.75 L419.21 151.63 L420.76 151.52 L422.31 151.4 L423.86 151.29 L425.41 151.19 L426.96 151.08 L428.51 150.98 L430.06 150.88 L431.61 150.78 L433.16 150.68 L434.7 150.59 L436.25 150.5 L437.8 150.41 L439.35 150.32 L440.9 150.24 L442.45 150.15 L444 150.07 L445.55 149.99 L447.1 149.92 L448.65 149.84 L450.2 149.77 L451.75 149.7 L453.29 149.63 L454.84 149.56 L456.39 149.49 L457.94 149.43 L459.49 149.36 L461.04 149.3 L462.59 149.24 L464.14 149.18 L465.69 149.12 L467.24 149.07 L468.79 149.01 L470.34 148.96 L471.88 148.91 L473.43 148.86 L474.98 148.81 L476.53 148.76 L478.08 148.71 L479.63 148.66 L481.18 148.62 L482.73 148.57 L484.28 148.53 L485.83 148.49 L487.38 148.45 L488.93 148.41 L490.47 148.37 L492.02 148.33 L493.57 148.29 L495.12 148.26 L496.67 148.22 L498.22 148.19 L499.77 148.15 L501.32 148.12 L502.87 148.09 L504.42 148.05 L505.97 148.02 L507.52 147.99 L509.06 147.96 L510.61 147.94 L512.16 147.91 L513.71 147.88 L515.26 147.85 L516.81 147.83 L518.36 147.8 L519.91 147.78 L521.46 147.75 L523.01 147.73 L524.56 147.71 L526.11 147.68 L527.65 147.66 L529.2 147.64 L530.75 147.62 L532.3 147.6 L533.85 147.58 L535.4 147.56" fill="none" stroke="#C00000" stroke-width="1.9" stroke-linecap="butt" stroke-linejoin="round" stroke-dasharray="14.2 6"/>
<path d="M350.5 159.65V163.65M347.7 159.65h5.6M347.7 163.65h5.6M356.7 152.23V161.23M353.9 152.23h5.6M353.9 161.23h5.6M369.09 153.24V162.24M366.29 153.24h5.6M366.29 162.24h5.6M393.88 149.17V158.17M391.08 149.17h5.6M391.08 158.17h5.6M437.25 147.3V155.3M434.45 147.3h5.6M434.45 155.3h5.6M480.63 145.64V154.24M477.83 145.64h5.6M477.83 154.24h5.6M524.01 141.37V151.37M521.21 141.37h5.6M521.21 151.37h5.6" fill="none" stroke="#1a1a1a" stroke-width="1.1"/>
<circle cx="349.5" cy="160.85" r="2.9" fill="#C00000"/>
<circle cx="355.7" cy="155.93" r="2.9" fill="#C00000"/>
<circle cx="368.09" cy="156.94" r="2.9" fill="#C00000"/>
<circle cx="392.88" cy="152.87" r="2.9" fill="#C00000"/>
<circle cx="436.25" cy="150.5" r="2.9" fill="#C00000"/>
<circle cx="479.63" cy="149.14" r="2.9" fill="#C00000"/>
<circle cx="523.01" cy="145.57" r="2.9" fill="#C00000"/>
<text x="6.8" y="280.4" font-size="17.5" font-family='"Liberation Serif", serif' fill="#000" stroke="#000" stroke-width="0.4">C</text>
<text x="138.4" y="281.2" font-size="14.7" font-weight="bold" text-anchor="middle" font-family='"Liberation Serif", serif' fill="#000">Xylitol</text>
<path d="M61 301.6V471.1H247.3" fill="none" stroke="#d0d0d0" stroke-width="1.2"/>
<text x="50.4" y="474.9" font-size="13" text-anchor="end" font-family='"Liberation Serif", serif' fill="#222222" stroke="#222" stroke-width="0.15">0.0</text>
<text x="50.4" y="441" font-size="13" text-anchor="end" font-family='"Liberation Serif", serif' fill="#222222" stroke="#222" stroke-width="0.15">0.2</text>
<text x="50.4" y="407.1" font-size="13" text-anchor="end" font-family='"Liberation Serif", serif' fill="#222222" stroke="#222" stroke-width="0.15">0.4</text>
<text x="50.4" y="373.2" font-size="13" text-anchor="end" font-family='"Liberation Serif", serif' fill="#222222" stroke="#222" stroke-width="0.15">0.6</text>
<text x="50.4" y="339.3" font-size="13" text-anchor="end" font-family='"Liberation Serif", serif' fill="#222222" stroke="#222" stroke-width="0.15">0.8</text>
<text x="50.4" y="305.4" font-size="13" text-anchor="end" font-family='"Liberation Serif", serif' fill="#222222" stroke="#222" stroke-width="0.15">1.0</text>
<text x="61" y="489.4" font-size="13" text-anchor="middle" font-family='"Liberation Serif", serif' fill="#222222" stroke="#222" stroke-width="0.15">0</text>
<text x="123.1" y="489.4" font-size="13" text-anchor="middle" font-family='"Liberation Serif", serif' fill="#222222" stroke="#222" stroke-width="0.15">10</text>
<text x="185.2" y="489.4" font-size="13" text-anchor="middle" font-family='"Liberation Serif", serif' fill="#222222" stroke="#222" stroke-width="0.15">20</text>
<text x="247.3" y="489.4" font-size="13" text-anchor="middle" font-family='"Liberation Serif", serif' fill="#222222" stroke="#222" stroke-width="0.15">30</text>
<text x="154.15" y="506.9" font-size="12" font-weight="bold" text-anchor="middle" font-family='"Liberation Serif", serif' fill="#000">Days</text>
<text transform="translate(29.7 385.75) rotate(-90)" font-size="12.3" font-weight="bold" text-anchor="middle" font-family='"Liberation Serif", serif' fill="#000">620nm Absorbance</text>
<path d="M60.3 444.83 L61.85 443.97 L63.4 443.14 L64.96 442.33 L66.51 441.54 L68.06 440.78 L69.61 440.03 L71.17 439.31 L72.72 438.61 L74.27 437.92 L75.83 437.26 L77.38 436.62 L78.93 435.99 L80.48 435.38 L82.03 434.79 L83.59 434.21 L85.14 433.66 L86.69 433.11 L88.25 432.58 L89.8 432.07 L91.35 431.57 L92.9 431.09 L94.45 430.62 L96.01 430.16 L97.56 429.71 L99.11 429.28 L100.66 428.86 L102.22 428.45 L103.77 428.05 L105.32 427.67 L106.88 427.29 L108.43 426.93 L109.98 426.57 L111.53 426.23 L113.08 425.89 L114.64 425.57 L116.19 425.25 L117.74 424.95 L119.29 424.65 L120.85 424.36 L122.4 424.08 L123.95 423.8 L125.5 423.53 L127.06 423.28 L128.61 423.02 L130.16 422.78 L131.72 422.54 L133.27 422.31 L134.82 422.09 L136.37 421.87 L137.93 421.66 L139.48 421.45 L141.03 421.25 L142.58 421.05 L144.13 420.86 L145.69 420.68 L147.24 420.5 L148.79 420.33 L150.34 420.16 L151.9 420 L153.45 419.84 L155 419.68 L156.56 419.53 L158.11 419.38 L159.66 419.24 L161.21 419.1 L162.76 418.97 L164.32 418.84 L165.87 418.71 L167.42 418.59 L168.97 418.47 L170.53 418.35 L172.08 418.24 L173.63 418.13 L175.19 418.02 L176.74 417.92 L178.29 417.82 L179.84 417.72 L181.39 417.62 L182.95 417.53 L184.5 417.44 L186.05 417.35 L187.6 417.27 L189.16 417.18 L190.71 417.1 L192.26 417.02 L193.81 416.95 L195.37 416.87 L196.92 416.8 L198.47 416.73 L200.02 416.66 L201.58 416.6 L203.13 416.53 L204.68 416.47 L206.24 416.41 L207.79 416.35 L209.34 416.3 L210.89 416.24 L212.44 416.19 L214 416.13 L215.55 416.08 L217.1 416.03 L218.65 415.98 L220.21 415.94 L221.76 415.89 L223.31 415.85 L224.87 415.8 L226.42 415.76 L227.97 415.72 L229.52 415.68 L231.07 415.64 L232.63 415.61 L234.18 415.57 L235.73 415.54 L237.28 415.5 L238.84 415.47 L240.39 415.44 L241.94 415.4 L243.5 415.37 L245.05 415.34 L246.6 415.32" fill="none" stroke="#000000" stroke-width="2.0" stroke-linecap="butt" stroke-linejoin="round"/>
<path d="M61.3 442.63V448.63M58.5 442.63h5.6M58.5 448.63h5.6M67.51 440.09V446.09M64.71 440.09h5.6M64.71 446.09h5.6M79.93 435V441M77.13 435h5.6M77.13 441h5.6M104.77 426.03V433.03M101.97 426.03h5.6M101.97 433.03h5.6M148.24 416.95V425.15M145.44 416.95h5.6M145.44 425.15h5.6M191.71 413.83V421.83M188.91 413.83h5.6M188.91 421.83h5.6M235.18 412.13V419.13M232.38 412.13h5.6M232.38 419.13h5.6" fill="none" stroke="#1a1a1a" stroke-width="1.1"/>
<path d="M57.7 442.23l5.2 5.2M57.7 447.43l5.2 -5.2" stroke="#000" stroke-width="1.2" fill="none"/>
<path d="M63.91 439.69l5.2 5.2M63.91 444.89l5.2 -5.2" stroke="#000" stroke-width="1.2" fill="none"/>
<path d="M76.33 434.6l5.2 5.2M76.33 439.8l5.2 -5.2" stroke="#000" stroke-width="1.2" fill="none"/>
<path d="M101.17 426.12l5.2 5.2M101.17 431.33l5.2 -5.2" stroke="#000" stroke-width="1.2" fill="none"/>
<path d="M144.64 417.65l5.2 5.2M144.64 422.85l5.2 -5.2" stroke="#000" stroke-width="1.2" fill="none"/>
<path d="M188.11 414.43l5.2 5.2M188.11 419.63l5.2 -5.2" stroke="#000" stroke-width="1.2" fill="none"/>
<path d="M231.58 412.23l5.2 5.2M231.58 417.43l5.2 -5.2" stroke="#000" stroke-width="1.2" fill="none"/>
<path d="M60.3 444.83 L61.85 444.29 L63.4 443.77 L64.96 443.28 L66.51 442.81 L68.06 442.36 L69.61 441.93 L71.17 441.52 L72.72 441.12 L74.27 440.74 L75.83 440.38 L77.38 440.04 L78.93 439.71 L80.48 439.39 L82.03 439.09 L83.59 438.8 L85.14 438.53 L86.69 438.26 L88.25 438.01 L89.8 437.77 L91.35 437.54 L92.9 437.31 L94.45 437.1 L96.01 436.9 L97.56 436.71 L99.11 436.52 L100.66 436.34 L102.22 436.18 L103.77 436.01 L105.32 435.86 L106.88 435.71 L108.43 435.57 L109.98 435.43 L111.53 435.3 L113.08 435.18 L114.64 435.06 L116.19 434.95 L117.74 434.84 L119.29 434.73 L120.85 434.64 L122.4 434.54 L123.95 434.45 L125.5 434.36 L127.06 434.28 L128.61 434.2 L130.16 434.12 L131.72 434.05 L133.27 433.98 L134.82 433.92 L136.37 433.85 L137.93 433.79 L139.48 433.73 L141.03 433.68 L142.58 433.62 L144.13 433.57 L145.69 433.52 L147.24 433.48 L148.79 433.43 L150.34 433.39 L151.9 433.35 L153.45 433.31 L155 433.27 L156.56 433.24 L158.11 433.2 L159.66 433.17 L161.21 433.14 L162.76 433.11 L164.32 433.08 L165.87 433.05 L167.42 433.03 L168.97 433 L170.53 432.98 L172.08 432.96 L173.63 432.93 L175.19 432.91 L176.74 432.89 L178.29 432.87 L179.84 432.86 L181.39 432.84 L182.95 432.82 L184.5 432.81 L186.05 432.79 L187.6 432.78 L189.16 432.76 L190.71 432.75 L192.26 432.74 L193.81 432.72 L195.37 432.71 L196.92 432.7 L198.47 432.69 L200.02 432.68 L201.58 432.67 L203.13 432.66 L204.68 432.65 L206.24 432.64 L207.79 432.63 L209.34 432.63 L210.89 432.62 L212.44 432.61 L214 432.61 L215.55 432.6 L217.1 432.59 L218.65 432.59 L220.21 432.58 L221.76 432.57 L223.31 432.57 L224.87 432.56 L226.42 432.56 L227.97 432.56 L229.52 432.55 L231.07 432.55 L232.63 432.54 L234.18 432.54 L235.73 432.54 L237.28 432.53 L238.84 432.53 L240.39 432.52 L241.94 432.52 L243.5 432.52 L245.05 432.52 L246.6 432.51" fill="none" stroke="#7030A0" stroke-width="1.9" stroke-linecap="round" stroke-linejoin="round" stroke-dasharray="0.01 3.67"/>
<path d="M61.3 443.29V447.29M58.5 443.29h5.6M58.5 447.29h5.6M67.51 440.76V446.76M64.71 440.76h5.6M64.71 446.76h5.6M79.93 438.05V444.05M77.13 438.05h5.6M77.13 444.05h5.6M104.77 433.14V439.14M101.97 433.14h5.6M101.97 439.14h5.6M148.24 427.96V439.56M145.44 427.96h5.6M145.44 439.56h5.6M191.71 422.4V433.6M188.91 422.4h5.6M188.91 433.6h5.6M235.18 426.04V438.44M232.38 426.04h5.6M232.38 438.44h5.6" fill="none" stroke="#1a1a1a" stroke-width="1.1"/>
<circle cx="60.3" cy="444.49" r="2.9" fill="#7030A0"/>
<circle cx="66.51" cy="442.96" r="2.9" fill="#7030A0"/>
<circle cx="78.93" cy="440.25" r="2.9" fill="#7030A0"/>
<circle cx="103.77" cy="435.34" r="2.9" fill="#7030A0"/>
<circle cx="147.24" cy="432.96" r="2.9" fill="#7030A0"/>
<circle cx="190.71" cy="427.2" r="2.9" fill="#7030A0"/>
<circle cx="234.18" cy="431.44" r="2.9" fill="#7030A0"/>
<path d="M60.3 424.49 L61.85 423.41 L63.4 422.36 L64.96 421.33 L66.51 420.32 L68.06 419.33 L69.61 418.37 L71.17 417.43 L72.72 416.5 L74.27 415.6 L75.83 414.71 L77.38 413.85 L78.93 413 L80.48 412.17 L82.03 411.36 L83.59 410.57 L85.14 409.79 L86.69 409.03 L88.25 408.29 L89.8 407.56 L91.35 406.85 L92.9 406.15 L94.45 405.47 L96.01 404.81 L97.56 404.15 L99.11 403.51 L100.66 402.89 L102.22 402.28 L103.77 401.68 L105.32 401.1 L106.88 400.52 L108.43 399.96 L109.98 399.42 L111.53 398.88 L113.08 398.35 L114.64 397.84 L116.19 397.34 L117.74 396.85 L119.29 396.37 L120.85 395.89 L122.4 395.43 L123.95 394.98 L125.5 394.54 L127.06 394.11 L128.61 393.69 L130.16 393.27 L131.72 392.87 L133.27 392.48 L134.82 392.09 L136.37 391.71 L137.93 391.34 L139.48 390.98 L141.03 390.62 L142.58 390.27 L144.13 389.93 L145.69 389.6 L147.24 389.28 L148.79 388.96 L150.34 388.65 L151.9 388.34 L153.45 388.04 L155 387.75 L156.56 387.47 L158.11 387.19 L159.66 386.91 L161.21 386.65 L162.76 386.39 L164.32 386.13 L165.87 385.88 L167.42 385.63 L168.97 385.39 L170.53 385.16 L172.08 384.93 L173.63 384.7 L175.19 384.48 L176.74 384.27 L178.29 384.06 L179.84 383.85 L181.39 383.65 L182.95 383.45 L184.5 383.26 L186.05 383.07 L187.6 382.89 L189.16 382.71 L190.71 382.53 L192.26 382.36 L193.81 382.19 L195.37 382.02 L196.92 381.86 L198.47 381.7 L200.02 381.55 L201.58 381.39 L203.13 381.25 L204.68 381.1 L206.24 380.96 L207.79 380.82 L209.34 380.68 L210.89 380.55 L212.44 380.42 L214 380.29 L215.55 380.17 L217.1 380.04 L218.65 379.92 L220.21 379.81 L221.76 379.69 L223.31 379.58 L224.87 379.47 L226.42 379.36 L227.97 379.26 L229.52 379.16 L231.07 379.06 L232.63 378.96 L234.18 378.86 L235.73 378.77 L237.28 378.67 L238.84 378.58 L240.39 378.5 L241.94 378.41 L243.5 378.33 L245.05 378.24 L246.6 378.16" fill="none" stroke="#5B9BD5" stroke-width="1.9" stroke-linecap="butt" stroke-linejoin="round" stroke-dasharray="5.2 2.15"/>
<path d="M61.3 419.66V431.26M58.5 419.66h5.6M58.5 431.26h5.6M67.51 413.98V427.78M64.71 413.98h5.6M64.71 427.78h5.6M79.93 411.66V423.66M77.13 411.66h5.6M77.13 423.66h5.6M104.77 397.1V411.1M101.97 397.1h5.6M101.97 411.1h5.6M148.24 383.44V397.64M145.44 383.44h5.6M145.44 397.64h5.6M191.71 370.27V386.07M188.91 370.27h5.6M188.91 386.07h5.6M235.18 366.53V381.33M232.38 366.53h5.6M232.38 381.33h5.6" fill="none" stroke="#1a1a1a" stroke-width="1.1"/>
<circle cx="60.3" cy="424.66" r="2.9" fill="#5B9BD5"/>
<circle cx="66.51" cy="420.08" r="2.9" fill="#5B9BD5"/>
<circle cx="78.93" cy="416.86" r="2.9" fill="#5B9BD5"/>
<circle cx="103.77" cy="403.3" r="2.9" fill="#5B9BD5"/>
<circle cx="147.24" cy="389.74" r="2.9" fill="#5B9BD5"/>
<circle cx="190.71" cy="377.37" r="2.9" fill="#5B9BD5"/>
<circle cx="234.18" cy="373.13" r="2.9" fill="#5B9BD5"/>
<path d="M60.3 421.95 L61.85 419.72 L63.4 417.56 L64.96 415.48 L66.51 413.45 L68.06 411.49 L69.61 409.6 L71.17 407.76 L72.72 405.98 L74.27 404.25 L75.83 402.58 L77.38 400.96 L78.93 399.39 L80.48 397.87 L82.03 396.4 L83.59 394.97 L85.14 393.59 L86.69 392.25 L88.25 390.95 L89.8 389.7 L91.35 388.48 L92.9 387.3 L94.45 386.16 L96.01 385.05 L97.56 383.98 L99.11 382.94 L100.66 381.94 L102.22 380.96 L103.77 380.02 L105.32 379.1 L106.88 378.22 L108.43 377.36 L109.98 376.53 L111.53 375.72 L113.08 374.94 L114.64 374.19 L116.19 373.45 L117.74 372.75 L119.29 372.06 L120.85 371.39 L122.4 370.75 L123.95 370.12 L125.5 369.52 L127.06 368.93 L128.61 368.36 L130.16 367.81 L131.72 367.28 L133.27 366.76 L134.82 366.26 L136.37 365.78 L137.93 365.31 L139.48 364.85 L141.03 364.41 L142.58 363.99 L144.13 363.57 L145.69 363.17 L147.24 362.78 L148.79 362.41 L150.34 362.04 L151.9 361.69 L153.45 361.35 L155 361.02 L156.56 360.7 L158.11 360.39 L159.66 360.09 L161.21 359.79 L162.76 359.51 L164.32 359.24 L165.87 358.97 L167.42 358.72 L168.97 358.47 L170.53 358.23 L172.08 357.99 L173.63 357.77 L175.19 357.55 L176.74 357.34 L178.29 357.13 L179.84 356.93 L181.39 356.74 L182.95 356.55 L184.5 356.37 L186.05 356.19 L187.6 356.02 L189.16 355.86 L190.71 355.7 L192.26 355.55 L193.81 355.4 L195.37 355.25 L196.92 355.11 L198.47 354.97 L200.02 354.84 L201.58 354.71 L203.13 354.59 L204.68 354.47 L206.24 354.35 L207.79 354.24 L209.34 354.13 L210.89 354.03 L212.44 353.93 L214 353.83 L215.55 353.73 L217.1 353.64 L218.65 353.55 L220.21 353.46 L221.76 353.38 L223.31 353.29 L224.87 353.21 L226.42 353.14 L227.97 353.06 L229.52 352.99 L231.07 352.92 L232.63 352.85 L234.18 352.79 L235.73 352.72 L237.28 352.66 L238.84 352.6 L240.39 352.55 L241.94 352.49 L243.5 352.44 L245.05 352.38 L246.6 352.33" fill="none" stroke="#70AD47" stroke-width="1.9" stroke-linecap="butt" stroke-linejoin="round" stroke-dasharray="7.2 5.7"/>
<path d="M61.3 417.05V425.05M58.5 417.05h5.6M58.5 425.05h5.6M67.51 409.27V419.27M64.71 409.27h5.6M64.71 419.27h5.6M79.93 395.29V407.49M77.13 395.29h5.6M77.13 407.49h5.6M104.77 374.21V387.21M101.97 374.21h5.6M101.97 387.21h5.6M148.24 358.38V371.18M145.44 358.38h5.6M145.44 371.18h5.6M191.71 347.44V361.44M188.91 347.44h5.6M188.91 361.44h5.6M235.18 342.86V356.86M232.38 342.86h5.6M232.38 356.86h5.6" fill="none" stroke="#1a1a1a" stroke-width="1.1"/>
<circle cx="60.3" cy="420.25" r="2.9" fill="#70AD47"/>
<circle cx="66.51" cy="413.47" r="2.9" fill="#70AD47"/>
<circle cx="78.93" cy="400.59" r="2.9" fill="#70AD47"/>
<circle cx="103.77" cy="379.91" r="2.9" fill="#70AD47"/>
<circle cx="147.24" cy="363.98" r="2.9" fill="#70AD47"/>
<circle cx="190.71" cy="353.64" r="2.9" fill="#70AD47"/>
<circle cx="234.18" cy="349.06" r="2.9" fill="#70AD47"/>
<path d="M60.3 393.13 L61.85 389.07 L63.4 385.22 L64.96 381.58 L66.51 378.13 L68.06 374.86 L69.61 371.77 L71.17 368.85 L72.72 366.08 L74.27 363.45 L75.83 360.97 L77.38 358.62 L78.93 356.4 L80.48 354.29 L82.03 352.3 L83.59 350.41 L85.14 348.62 L86.69 346.93 L88.25 345.32 L89.8 343.81 L91.35 342.37 L92.9 341.01 L94.45 339.73 L96.01 338.51 L97.56 337.35 L99.11 336.26 L100.66 335.23 L102.22 334.25 L103.77 333.32 L105.32 332.44 L106.88 331.61 L108.43 330.83 L109.98 330.08 L111.53 329.38 L113.08 328.71 L114.64 328.08 L116.19 327.48 L117.74 326.92 L119.29 326.38 L120.85 325.87 L122.4 325.39 L123.95 324.94 L125.5 324.51 L127.06 324.1 L128.61 323.71 L130.16 323.35 L131.72 323 L133.27 322.67 L134.82 322.36 L136.37 322.07 L137.93 321.79 L139.48 321.53 L141.03 321.28 L142.58 321.04 L144.13 320.82 L145.69 320.61 L147.24 320.41 L148.79 320.22 L150.34 320.04 L151.9 319.87 L153.45 319.71 L155 319.56 L156.56 319.41 L158.11 319.28 L159.66 319.15 L161.21 319.03 L162.76 318.91 L164.32 318.8 L165.87 318.7 L167.42 318.6 L168.97 318.51 L170.53 318.42 L172.08 318.34 L173.63 318.26 L175.19 318.18 L176.74 318.11 L178.29 318.04 L179.84 317.98 L181.39 317.92 L182.95 317.86 L184.5 317.81 L186.05 317.76 L187.6 317.71 L189.16 317.67 L190.71 317.62 L192.26 317.58 L193.81 317.54 L195.37 317.51 L196.92 317.47 L198.47 317.44 L200.02 317.41 L201.58 317.38 L203.13 317.35 L204.68 317.32 L206.24 317.3 L207.79 317.28 L209.34 317.25 L210.89 317.23 L212.44 317.21 L214 317.19 L215.55 317.17 L217.1 317.16 L218.65 317.14 L220.21 317.13 L221.76 317.11 L223.31 317.1 L224.87 317.09 L226.42 317.07 L227.97 317.06 L229.52 317.05 L231.07 317.04 L232.63 317.03 L234.18 317.02 L235.73 317.01 L237.28 317 L238.84 317 L240.39 316.99 L241.94 316.98 L243.5 316.97 L245.05 316.97 L246.6 316.96" fill="none" stroke="#FFC000" stroke-width="1.9" stroke-linecap="butt" stroke-linejoin="round" stroke-dasharray="7 5.7 1.8 5.7"/>
<path d="M61.3 388.26V399.26M58.5 388.26h5.6M58.5 399.26h5.6M67.51 371.64V381.64M64.71 371.64h5.6M64.71 381.64h5.6M79.93 353V363M77.13 353h5.6M77.13 363h5.6M104.77 328.25V338.25M101.97 328.25h5.6M101.97 338.25h5.6M148.24 321.02V330.22M145.44 321.02h5.6M145.44 330.22h5.6M191.71 314.49V324.89M188.91 314.49h5.6M188.91 324.89h5.6M235.18 312.86V323.46M232.38 312.86h5.6M232.38 323.46h5.6" fill="none" stroke="#1a1a1a" stroke-width="1.1"/>
<circle cx="60.3" cy="392.96" r="2.9" fill="#FFC000"/>
<circle cx="66.51" cy="375.84" r="2.9" fill="#FFC000"/>
<circle cx="78.93" cy="357.2" r="2.9" fill="#FFC000"/>
<circle cx="103.77" cy="332.45" r="2.9" fill="#FFC000"/>
<circle cx="147.24" cy="324.82" r="2.9" fill="#FFC000"/>
<circle cx="190.71" cy="318.89" r="2.9" fill="#FFC000"/>
<circle cx="234.18" cy="317.36" r="2.9" fill="#FFC000"/>
<path d="M60.3 388.05 L61.85 378.43 L63.4 369.94 L64.96 362.44 L66.51 355.83 L68.06 350 L69.61 344.85 L71.17 340.3 L72.72 336.29 L74.27 332.76 L75.83 329.63 L77.38 326.88 L78.93 324.44 L80.48 322.3 L82.03 320.4 L83.59 318.73 L85.14 317.26 L86.69 315.95 L88.25 314.81 L89.8 313.79 L91.35 312.9 L92.9 312.11 L94.45 311.41 L96.01 310.8 L97.56 310.25 L99.11 309.77 L100.66 309.35 L102.22 308.98 L103.77 308.65 L105.32 308.36 L106.88 308.1 L108.43 307.88 L109.98 307.68 L111.53 307.5 L113.08 307.34 L114.64 307.21 L116.19 307.09 L117.74 306.98 L119.29 306.88 L120.85 306.8 L122.4 306.73 L123.95 306.66 L125.5 306.61 L127.06 306.56 L128.61 306.51 L130.16 306.47 L131.72 306.44 L133.27 306.41 L134.82 306.38 L136.37 306.36 L137.93 306.33 L139.48 306.32 L141.03 306.3 L142.58 306.29 L144.13 306.27 L145.69 306.26 L147.24 306.25 L148.79 306.24 L150.34 306.23 L151.9 306.23 L153.45 306.22 L155 306.22 L156.56 306.21 L158.11 306.21 L159.66 306.2 L161.21 306.2 L162.76 306.2 L164.32 306.2 L165.87 306.19 L167.42 306.19 L168.97 306.19 L170.53 306.19 L172.08 306.19 L173.63 306.19 L175.19 306.18 L176.74 306.18 L178.29 306.18 L179.84 306.18 L181.39 306.18 L182.95 306.18 L184.5 306.18 L186.05 306.18 L187.6 306.18 L189.16 306.18 L190.71 306.18 L192.26 306.18 L193.81 306.18 L195.37 306.18 L196.92 306.18 L198.47 306.18 L200.02 306.18 L201.58 306.18 L203.13 306.18 L204.68 306.18 L206.24 306.18 L207.79 306.18 L209.34 306.18 L210.89 306.18 L212.44 306.18 L214 306.18 L215.55 306.18 L217.1 306.18 L218.65 306.18 L220.21 306.18 L221.76 306.18 L223.31 306.18 L224.87 306.18 L226.42 306.18 L227.97 306.18 L229.52 306.18 L231.07 306.18 L232.63 306.18 L234.18 306.18 L235.73 306.18 L237.28 306.18 L238.84 306.18 L240.39 306.18 L241.94 306.18 L243.5 306.18 L245.05 306.18 L246.6 306.18" fill="none" stroke="#C00000" stroke-width="1.9" stroke-linecap="butt" stroke-linejoin="round" stroke-dasharray="14.2 6"/>
<path d="M61.3 386V390M58.5 386h5.6M58.5 390h5.6M67.51 346.72V355.72M64.71 346.72h5.6M64.71 355.72h5.6M79.93 323.49V331.49M77.13 323.49h5.6M77.13 331.49h5.6M104.77 310.53V317.33M101.97 310.53h5.6M101.97 317.33h5.6M148.24 310.25V316.25M145.44 310.25h5.6M145.44 316.25h5.6M191.71 305.82V309.82M188.91 305.82h5.6M188.91 309.82h5.6M235.18 305.14V308.14M232.38 305.14h5.6M232.38 308.14h5.6" fill="none" stroke="#1a1a1a" stroke-width="1.1"/>
<circle cx="60.3" cy="387.2" r="2.9" fill="#C00000"/>
<circle cx="66.51" cy="350.42" r="2.9" fill="#C00000"/>
<circle cx="78.93" cy="326.69" r="2.9" fill="#C00000"/>
<circle cx="103.77" cy="313.13" r="2.9" fill="#C00000"/>
<circle cx="147.24" cy="312.45" r="2.9" fill="#C00000"/>
<circle cx="190.71" cy="307.02" r="2.9" fill="#C00000"/>
<circle cx="234.18" cy="305.84" r="2.9" fill="#C00000"/>
<text x="294.3" y="279.9" font-size="17.5" font-family='"Liberation Serif", serif' fill="#000" stroke="#000" stroke-width="0.4">D</text>
<text x="423.3" y="282.1" font-size="14.7" font-weight="bold" text-anchor="middle" font-family='"Liberation Serif", serif' fill="#000">Glucose</text>
<path d="M349.4 301.2V471H535.7" fill="none" stroke="#d0d0d0" stroke-width="1.2"/>
<text x="338.8" y="474.8" font-size="13" text-anchor="end" font-family='"Liberation Serif", serif' fill="#222222" stroke="#222" stroke-width="0.15">0.0</text>
<text x="338.8" y="440.84" font-size="13" text-anchor="end" font-family='"Liberation Serif", serif' fill="#222222" stroke="#222" stroke-width="0.15">0.2</text>
<text x="338.8" y="406.88" font-size="13" text-anchor="end" font-family='"Liberation Serif", serif' fill="#222222" stroke="#222" stroke-width="0.15">0.4</text>
<text x="338.8" y="372.92" font-size="13" text-anchor="end" font-family='"Liberation Serif", serif' fill="#222222" stroke="#222" stroke-width="0.15">0.6</text>
<text x="338.8" y="338.96" font-size="13" text-anchor="end" font-family='"Liberation Serif", serif' fill="#222222" stroke="#222" stroke-width="0.15">0.8</text>
<text x="338.8" y="305" font-size="13" text-anchor="end" font-family='"Liberation Serif", serif' fill="#222222" stroke="#222" stroke-width="0.15">1.0</text>
<text x="349.4" y="489.3" font-size="13" text-anchor="middle" font-family='"Liberation Serif", serif' fill="#222222" stroke="#222" stroke-width="0.15">0</text>
<text x="411.5" y="489.3" font-size="13" text-anchor="middle" font-family='"Liberation Serif", serif' fill="#222222" stroke="#222" stroke-width="0.15">10</text>
<text x="473.6" y="489.3" font-size="13" text-anchor="middle" font-family='"Liberation Serif", serif' fill="#222222" stroke="#222" stroke-width="0.15">20</text>
<text x="535.7" y="489.3" font-size="13" text-anchor="middle" font-family='"Liberation Serif", serif' fill="#222222" stroke="#222" stroke-width="0.15">30</text>
<text x="442.55" y="506.8" font-size="12" font-weight="bold" text-anchor="middle" font-family='"Liberation Serif", serif' fill="#000">Days</text>
<text transform="translate(318.1 385.5) rotate(-90)" font-size="12.3" font-weight="bold" text-anchor="middle" font-family='"Liberation Serif", serif' fill="#000">620nm Absorbance</text>
<path d="M348.7 443.83 L350.25 443.01 L351.81 442.21 L353.36 441.44 L354.91 440.68 L356.46 439.95 L358.01 439.24 L359.57 438.54 L361.12 437.87 L362.67 437.21 L364.23 436.58 L365.78 435.96 L367.33 435.35 L368.88 434.77 L370.44 434.2 L371.99 433.64 L373.54 433.1 L375.09 432.58 L376.64 432.07 L378.2 431.57 L379.75 431.09 L381.3 430.62 L382.86 430.17 L384.41 429.72 L385.96 429.29 L387.51 428.87 L389.06 428.47 L390.62 428.07 L392.17 427.68 L393.72 427.31 L395.27 426.95 L396.83 426.59 L398.38 426.25 L399.93 425.91 L401.49 425.59 L403.04 425.27 L404.59 424.96 L406.14 424.66 L407.69 424.37 L409.25 424.09 L410.8 423.81 L412.35 423.54 L413.91 423.28 L415.46 423.03 L417.01 422.79 L418.56 422.55 L420.12 422.31 L421.67 422.09 L423.22 421.87 L424.77 421.65 L426.33 421.44 L427.88 421.24 L429.43 421.05 L430.98 420.85 L432.54 420.67 L434.09 420.49 L435.64 420.31 L437.19 420.14 L438.75 419.97 L440.3 419.81 L441.85 419.66 L443.4 419.5 L444.96 419.35 L446.51 419.21 L448.06 419.07 L449.61 418.93 L451.17 418.8 L452.72 418.67 L454.27 418.54 L455.82 418.42 L457.38 418.3 L458.93 418.19 L460.48 418.07 L462.03 417.97 L463.59 417.86 L465.14 417.76 L466.69 417.66 L468.24 417.56 L469.8 417.46 L471.35 417.37 L472.9 417.28 L474.45 417.19 L476.01 417.11 L477.56 417.03 L479.11 416.95 L480.66 416.87 L482.22 416.79 L483.77 416.72 L485.32 416.65 L486.87 416.58 L488.43 416.51 L489.98 416.44 L491.53 416.38 L493.08 416.32 L494.64 416.25 L496.19 416.2 L497.74 416.14 L499.29 416.08 L500.85 416.03 L502.4 415.98 L503.95 415.92 L505.5 415.87 L507.06 415.83 L508.61 415.78 L510.16 415.73 L511.71 415.69 L513.27 415.64 L514.82 415.6 L516.37 415.56 L517.92 415.52 L519.48 415.48 L521.03 415.44 L522.58 415.41 L524.13 415.37 L525.69 415.34 L527.24 415.3 L528.79 415.27 L530.34 415.24 L531.9 415.21 L533.45 415.18 L535 415.15" fill="none" stroke="#000000" stroke-width="2.0" stroke-linecap="butt" stroke-linejoin="round"/>
<path d="M349.7 443.47V446.47M346.9 443.47h5.6M346.9 446.47h5.6M355.91 440.92V443.92M353.11 440.92h5.6M353.11 443.92h5.6M368.33 434.65V438.65M365.53 434.65h5.6M365.53 438.65h5.6M393.17 425.5V431.5M390.37 425.5h5.6M390.37 431.5h5.6M436.64 416.86V424.86M433.84 416.86h5.6M433.84 424.86h5.6M480.11 414.14V422.14M477.31 414.14h5.6M477.31 422.14h5.6M523.58 411.77V419.77M520.78 411.77h5.6M520.78 419.77h5.6" fill="none" stroke="#1a1a1a" stroke-width="1.1"/>
<path d="M346.1 441.57l5.2 5.2M346.1 446.77l5.2 -5.2" stroke="#000" stroke-width="1.2" fill="none"/>
<path d="M352.31 439.02l5.2 5.2M352.31 444.22l5.2 -5.2" stroke="#000" stroke-width="1.2" fill="none"/>
<path d="M364.73 433.25l5.2 5.2M364.73 438.45l5.2 -5.2" stroke="#000" stroke-width="1.2" fill="none"/>
<path d="M389.57 425.1l5.2 5.2M389.57 430.3l5.2 -5.2" stroke="#000" stroke-width="1.2" fill="none"/>
<path d="M433.04 417.46l5.2 5.2M433.04 422.66l5.2 -5.2" stroke="#000" stroke-width="1.2" fill="none"/>
<path d="M476.51 414.74l5.2 5.2M476.51 419.94l5.2 -5.2" stroke="#000" stroke-width="1.2" fill="none"/>
<path d="M519.98 412.37l5.2 5.2M519.98 417.57l5.2 -5.2" stroke="#000" stroke-width="1.2" fill="none"/>
<path d="M348.7 445.53 L350.25 444.44 L351.81 443.3 L353.36 442.16 L354.91 441.05 L356.46 440.01 L358.01 439.08 L359.57 438.26 L361.12 437.53 L362.67 436.86 L364.23 436.23 L365.78 435.63 L367.33 435.04 L368.88 434.44 L370.44 433.82 L371.99 433.17 L373.54 432.48 L375.09 431.78 L376.64 431.07 L378.2 430.37 L379.75 429.68 L381.3 429.02 L382.86 428.38 L384.41 427.75 L385.96 427.13 L387.51 426.52 L389.06 425.92 L390.62 425.34 L392.17 424.77 L393.72 424.21 L395.27 423.67 L396.83 423.14 L398.38 422.6 L399.93 422.07 L401.49 421.54 L403.04 421.02 L404.59 420.51 L406.14 420.03 L407.69 419.57 L409.25 419.15 L410.8 418.76 L412.35 418.42 L413.91 418.12 L415.46 417.84 L417.01 417.56 L418.56 417.3 L420.12 417.05 L421.67 416.82 L423.22 416.59 L424.77 416.37 L426.33 416.17 L427.88 415.97 L429.43 415.79 L430.98 415.61 L432.54 415.45 L434.09 415.29 L435.64 415.14 L437.19 414.99 L438.75 414.85 L440.3 414.72 L441.85 414.6 L443.4 414.47 L444.96 414.36 L446.51 414.25 L448.06 414.15 L449.61 414.05 L451.17 413.95 L452.72 413.86 L454.27 413.78 L455.82 413.7 L457.38 413.62 L458.93 413.54 L460.48 413.47 L462.03 413.39 L463.59 413.33 L465.14 413.26 L466.69 413.19 L468.24 413.13 L469.8 413.07 L471.35 413.01 L472.9 412.96 L474.45 412.9 L476.01 412.85 L477.56 412.81 L479.11 412.76 L480.66 412.71 L482.22 412.67 L483.77 412.63 L485.32 412.59 L486.87 412.55 L488.43 412.51 L489.98 412.47 L491.53 412.43 L493.08 412.4 L494.64 412.36 L496.19 412.33 L497.74 412.3 L499.29 412.26 L500.85 412.23 L502.4 412.2 L503.95 412.17 L505.5 412.14 L507.06 412.11 L508.61 412.08 L510.16 412.05 L511.71 412.02 L513.27 411.99 L514.82 411.96 L516.37 411.93 L517.92 411.9 L519.48 411.88 L521.03 411.85 L522.58 411.82 L524.13 411.79 L525.69 411.76 L527.24 411.73 L528.79 411.7 L530.34 411.67 L531.9 411.63 L533.45 411.6 L535 411.57" fill="none" stroke="#7030A0" stroke-width="1.9" stroke-linecap="round" stroke-linejoin="round" stroke-dasharray="0.01 3.67"/>
<path d="M349.7 444.5V448.5M346.9 444.5h5.6M346.9 448.5h5.6M355.91 432.66V441.66M353.11 432.66h5.6M353.11 441.66h5.6M368.33 426.71V434.71M365.53 426.71h5.6M365.53 434.71h5.6M393.17 418.41V428.41M390.37 418.41h5.6M390.37 428.41h5.6M436.64 410.78V421.78M433.84 410.78h5.6M433.84 421.78h5.6M480.11 405.69V417.69M477.31 405.69h5.6M477.31 417.69h5.6M523.58 405.18V417.18M520.78 405.18h5.6M520.78 417.18h5.6" fill="none" stroke="#1a1a1a" stroke-width="1.1"/>
<circle cx="348.7" cy="445.7" r="2.9" fill="#7030A0"/>
<circle cx="354.91" cy="436.36" r="2.9" fill="#7030A0"/>
<circle cx="367.33" cy="429.91" r="2.9" fill="#7030A0"/>
<circle cx="392.17" cy="422.61" r="2.9" fill="#7030A0"/>
<circle cx="435.64" cy="415.48" r="2.9" fill="#7030A0"/>
<circle cx="479.11" cy="410.89" r="2.9" fill="#7030A0"/>
<circle cx="522.58" cy="410.38" r="2.9" fill="#7030A0"/>
<path d="M348.7 454.02 L350.25 453.48 L351.81 452.96 L353.36 452.45 L354.91 451.95 L356.46 451.47 L358.01 451 L359.57 450.55 L361.12 450.11 L362.67 449.68 L364.23 449.26 L365.78 448.86 L367.33 448.46 L368.88 448.08 L370.44 447.71 L371.99 447.35 L373.54 446.99 L375.09 446.65 L376.64 446.32 L378.2 446 L379.75 445.68 L381.3 445.38 L382.86 445.08 L384.41 444.79 L385.96 444.51 L387.51 444.24 L389.06 443.98 L390.62 443.72 L392.17 443.47 L393.72 443.23 L395.27 442.99 L396.83 442.76 L398.38 442.54 L399.93 442.32 L401.49 442.11 L403.04 441.91 L404.59 441.71 L406.14 441.52 L407.69 441.33 L409.25 441.15 L410.8 440.97 L412.35 440.8 L413.91 440.63 L415.46 440.47 L417.01 440.31 L418.56 440.15 L420.12 440 L421.67 439.86 L423.22 439.72 L424.77 439.58 L426.33 439.45 L427.88 439.32 L429.43 439.19 L430.98 439.07 L432.54 438.95 L434.09 438.83 L435.64 438.72 L437.19 438.61 L438.75 438.51 L440.3 438.4 L441.85 438.3 L443.4 438.21 L444.96 438.11 L446.51 438.02 L448.06 437.93 L449.61 437.84 L451.17 437.76 L452.72 437.68 L454.27 437.6 L455.82 437.52 L457.38 437.44 L458.93 437.37 L460.48 437.3 L462.03 437.23 L463.59 437.16 L465.14 437.1 L466.69 437.03 L468.24 436.97 L469.8 436.91 L471.35 436.85 L472.9 436.8 L474.45 436.74 L476.01 436.69 L477.56 436.63 L479.11 436.58 L480.66 436.53 L482.22 436.49 L483.77 436.44 L485.32 436.4 L486.87 436.35 L488.43 436.31 L489.98 436.27 L491.53 436.23 L493.08 436.19 L494.64 436.15 L496.19 436.11 L497.74 436.08 L499.29 436.04 L500.85 436.01 L502.4 435.97 L503.95 435.94 L505.5 435.91 L507.06 435.88 L508.61 435.85 L510.16 435.82 L511.71 435.8 L513.27 435.77 L514.82 435.74 L516.37 435.72 L517.92 435.69 L519.48 435.67 L521.03 435.64 L522.58 435.62 L524.13 435.6 L525.69 435.58 L527.24 435.56 L528.79 435.54 L530.34 435.52 L531.9 435.5 L533.45 435.48 L535 435.46" fill="none" stroke="#5B9BD5" stroke-width="1.9" stroke-linecap="butt" stroke-linejoin="round" stroke-dasharray="5.2 2.15"/>
<path d="M349.7 452.14V456.14M346.9 452.14h5.6M346.9 456.14h5.6M355.91 448.92V453.92M353.11 448.92h5.6M353.11 453.92h5.6M368.33 444.36V451.36M365.53 444.36h5.6M365.53 451.36h5.6M393.17 439.93V445.93M390.37 439.93h5.6M390.37 445.93h5.6M436.64 435.35V441.35M433.84 435.35h5.6M433.84 441.35h5.6M480.11 432.64V439.64M477.31 432.64h5.6M477.31 439.64h5.6M523.58 431.11V438.11M520.78 431.11h5.6M520.78 438.11h5.6" fill="none" stroke="#1a1a1a" stroke-width="1.1"/>
<circle cx="348.7" cy="453.34" r="2.9" fill="#5B9BD5"/>
<circle cx="354.91" cy="450.62" r="2.9" fill="#5B9BD5"/>
<circle cx="367.33" cy="447.06" r="2.9" fill="#5B9BD5"/>
<circle cx="392.17" cy="442.13" r="2.9" fill="#5B9BD5"/>
<circle cx="435.64" cy="437.55" r="2.9" fill="#5B9BD5"/>
<circle cx="479.11" cy="435.34" r="2.9" fill="#5B9BD5"/>
<circle cx="522.58" cy="433.81" r="2.9" fill="#5B9BD5"/>
<path d="M348.7 448.93 L350.25 448.05 L351.81 447.19 L353.36 446.35 L354.91 445.54 L356.46 444.75 L358.01 443.98 L359.57 443.23 L361.12 442.49 L362.67 441.78 L364.23 441.09 L365.78 440.41 L367.33 439.75 L368.88 439.11 L370.44 438.48 L371.99 437.87 L373.54 437.28 L375.09 436.7 L376.64 436.14 L378.2 435.59 L379.75 435.06 L381.3 434.53 L382.86 434.03 L384.41 433.53 L385.96 433.05 L387.51 432.58 L389.06 432.13 L390.62 431.68 L392.17 431.25 L393.72 430.83 L395.27 430.42 L396.83 430.02 L398.38 429.63 L399.93 429.25 L401.49 428.88 L403.04 428.52 L404.59 428.17 L406.14 427.82 L407.69 427.49 L409.25 427.17 L410.8 426.85 L412.35 426.54 L413.91 426.24 L415.46 425.95 L417.01 425.67 L418.56 425.39 L420.12 425.12 L421.67 424.86 L423.22 424.6 L424.77 424.35 L426.33 424.11 L427.88 423.87 L429.43 423.64 L430.98 423.41 L432.54 423.2 L434.09 422.98 L435.64 422.77 L437.19 422.57 L438.75 422.37 L440.3 422.18 L441.85 422 L443.4 421.81 L444.96 421.64 L446.51 421.46 L448.06 421.3 L449.61 421.13 L451.17 420.97 L452.72 420.82 L454.27 420.66 L455.82 420.52 L457.38 420.37 L458.93 420.23 L460.48 420.1 L462.03 419.96 L463.59 419.83 L465.14 419.71 L466.69 419.59 L468.24 419.47 L469.8 419.35 L471.35 419.24 L472.9 419.12 L474.45 419.02 L476.01 418.91 L477.56 418.81 L479.11 418.71 L480.66 418.61 L482.22 418.52 L483.77 418.43 L485.32 418.34 L486.87 418.25 L488.43 418.16 L489.98 418.08 L491.53 418 L493.08 417.92 L494.64 417.85 L496.19 417.77 L497.74 417.7 L499.29 417.63 L500.85 417.56 L502.4 417.49 L503.95 417.43 L505.5 417.36 L507.06 417.3 L508.61 417.24 L510.16 417.18 L511.71 417.12 L513.27 417.07 L514.82 417.01 L516.37 416.96 L517.92 416.91 L519.48 416.86 L521.03 416.81 L522.58 416.76 L524.13 416.71 L525.69 416.67 L527.24 416.63 L528.79 416.58 L530.34 416.54 L531.9 416.5 L533.45 416.46 L535 416.42" fill="none" stroke="#70AD47" stroke-width="1.9" stroke-linecap="butt" stroke-linejoin="round" stroke-dasharray="7.2 5.7"/>
<path d="M349.7 446.88V450.88M346.9 446.88h5.6M346.9 450.88h5.6M355.91 443.66V448.66M353.11 443.66h5.6M353.11 448.66h5.6M368.33 436.39V444.39M365.53 436.39h5.6M365.53 444.39h5.6M393.17 427.24V437.24M390.37 427.24h5.6M390.37 437.24h5.6M436.64 416.21V427.21M433.84 416.21h5.6M433.84 427.21h5.6M480.11 410.28V422.28M477.31 410.28h5.6M477.31 422.28h5.6M523.58 407.05V419.05M520.78 407.05h5.6M520.78 419.05h5.6" fill="none" stroke="#1a1a1a" stroke-width="1.1"/>
<circle cx="348.7" cy="448.08" r="2.9" fill="#70AD47"/>
<circle cx="354.91" cy="445.36" r="2.9" fill="#70AD47"/>
<circle cx="367.33" cy="439.59" r="2.9" fill="#70AD47"/>
<circle cx="392.17" cy="431.44" r="2.9" fill="#70AD47"/>
<circle cx="435.64" cy="420.91" r="2.9" fill="#70AD47"/>
<circle cx="479.11" cy="415.48" r="2.9" fill="#70AD47"/>
<circle cx="522.58" cy="412.25" r="2.9" fill="#70AD47"/>
<path d="M348.7 426 L350.25 423.66 L351.81 421.41 L353.36 419.24 L354.91 417.16 L356.46 415.15 L358.01 413.22 L359.57 411.36 L361.12 409.57 L362.67 407.85 L364.23 406.2 L365.78 404.61 L367.33 403.07 L368.88 401.6 L370.44 400.18 L371.99 398.81 L373.54 397.5 L375.09 396.24 L376.64 395.02 L378.2 393.85 L379.75 392.72 L381.3 391.64 L382.86 390.6 L384.41 389.59 L385.96 388.63 L387.51 387.7 L389.06 386.8 L390.62 385.94 L392.17 385.12 L393.72 384.32 L395.27 383.55 L396.83 382.81 L398.38 382.11 L399.93 381.42 L401.49 380.77 L403.04 380.13 L404.59 379.52 L406.14 378.94 L407.69 378.38 L409.25 377.83 L410.8 377.31 L412.35 376.81 L413.91 376.33 L415.46 375.86 L417.01 375.42 L418.56 374.99 L420.12 374.57 L421.67 374.17 L423.22 373.79 L424.77 373.42 L426.33 373.07 L427.88 372.73 L429.43 372.4 L430.98 372.08 L432.54 371.78 L434.09 371.48 L435.64 371.2 L437.19 370.93 L438.75 370.67 L440.3 370.42 L441.85 370.18 L443.4 369.95 L444.96 369.72 L446.51 369.51 L448.06 369.3 L449.61 369.1 L451.17 368.91 L452.72 368.72 L454.27 368.55 L455.82 368.38 L457.38 368.21 L458.93 368.05 L460.48 367.9 L462.03 367.76 L463.59 367.61 L465.14 367.48 L466.69 367.35 L468.24 367.22 L469.8 367.1 L471.35 366.99 L472.9 366.87 L474.45 366.77 L476.01 366.66 L477.56 366.56 L479.11 366.47 L480.66 366.38 L482.22 366.29 L483.77 366.2 L485.32 366.12 L486.87 366.04 L488.43 365.96 L489.98 365.89 L491.53 365.82 L493.08 365.75 L494.64 365.69 L496.19 365.62 L497.74 365.56 L499.29 365.51 L500.85 365.45 L502.4 365.4 L503.95 365.34 L505.5 365.3 L507.06 365.25 L508.61 365.2 L510.16 365.16 L511.71 365.11 L513.27 365.07 L514.82 365.03 L516.37 365 L517.92 364.96 L519.48 364.92 L521.03 364.89 L522.58 364.86 L524.13 364.83 L525.69 364.8 L527.24 364.77 L528.79 364.74 L530.34 364.71 L531.9 364.69 L533.45 364.66 L535 364.64" fill="none" stroke="#FFC000" stroke-width="1.9" stroke-linecap="butt" stroke-linejoin="round" stroke-dasharray="7 5.7 1.8 5.7"/>
<path d="M349.7 424.12V428.12M346.9 424.12h5.6M346.9 428.12h5.6M355.91 416.48V420.48M353.11 416.48h5.6M353.11 420.48h5.6M368.33 401.47V408.67M365.53 401.47h5.6M365.53 408.67h5.6M393.17 383.1V390.7M390.37 383.1h5.6M390.37 390.7h5.6M436.64 367.31V374.91M433.84 367.31h5.6M433.84 374.91h5.6M480.11 363.38V372.38M477.31 363.38h5.6M477.31 372.38h5.6M523.58 360.32V368.32M520.78 360.32h5.6M520.78 368.32h5.6" fill="none" stroke="#1a1a1a" stroke-width="1.1"/>
<circle cx="348.7" cy="425.32" r="2.9" fill="#FFC000"/>
<circle cx="354.91" cy="417.68" r="2.9" fill="#FFC000"/>
<circle cx="367.33" cy="404.27" r="2.9" fill="#FFC000"/>
<circle cx="392.17" cy="386.1" r="2.9" fill="#FFC000"/>
<circle cx="435.64" cy="370.31" r="2.9" fill="#FFC000"/>
<circle cx="479.11" cy="367.08" r="2.9" fill="#FFC000"/>
<circle cx="522.58" cy="363.52" r="2.9" fill="#FFC000"/>
<path d="M348.7 408.17 L350.25 404.79 L351.81 401.57 L353.36 398.52 L354.91 395.63 L356.46 392.89 L358.01 390.28 L359.57 387.81 L361.12 385.46 L362.67 383.24 L364.23 381.13 L365.78 379.12 L367.33 377.22 L368.88 375.42 L370.44 373.71 L371.99 372.08 L373.54 370.54 L375.09 369.08 L376.64 367.69 L378.2 366.37 L379.75 365.13 L381.3 363.94 L382.86 362.82 L384.41 361.75 L385.96 360.74 L387.51 359.78 L389.06 358.86 L390.62 358 L392.17 357.18 L393.72 356.4 L395.27 355.66 L396.83 354.96 L398.38 354.29 L399.93 353.66 L401.49 353.06 L403.04 352.5 L404.59 351.96 L406.14 351.44 L407.69 350.96 L409.25 350.5 L410.8 350.06 L412.35 349.65 L413.91 349.25 L415.46 348.88 L417.01 348.53 L418.56 348.19 L420.12 347.87 L421.67 347.57 L423.22 347.28 L424.77 347.01 L426.33 346.75 L427.88 346.5 L429.43 346.27 L430.98 346.05 L432.54 345.84 L434.09 345.64 L435.64 345.45 L437.19 345.27 L438.75 345.1 L440.3 344.94 L441.85 344.79 L443.4 344.64 L444.96 344.51 L446.51 344.38 L448.06 344.25 L449.61 344.13 L451.17 344.02 L452.72 343.92 L454.27 343.82 L455.82 343.72 L457.38 343.63 L458.93 343.54 L460.48 343.46 L462.03 343.39 L463.59 343.31 L465.14 343.24 L466.69 343.18 L468.24 343.11 L469.8 343.05 L471.35 343 L472.9 342.95 L474.45 342.89 L476.01 342.85 L477.56 342.8 L479.11 342.76 L480.66 342.72 L482.22 342.68 L483.77 342.64 L485.32 342.6 L486.87 342.57 L488.43 342.54 L489.98 342.51 L491.53 342.48 L493.08 342.45 L494.64 342.43 L496.19 342.4 L497.74 342.38 L499.29 342.36 L500.85 342.34 L502.4 342.32 L503.95 342.3 L505.5 342.28 L507.06 342.26 L508.61 342.25 L510.16 342.23 L511.71 342.22 L513.27 342.21 L514.82 342.19 L516.37 342.18 L517.92 342.17 L519.48 342.16 L521.03 342.15 L522.58 342.14 L524.13 342.13 L525.69 342.12 L527.24 342.11 L528.79 342.1 L530.34 342.09 L531.9 342.09 L533.45 342.08 L535 342.07" fill="none" stroke="#C00000" stroke-width="1.9" stroke-linecap="butt" stroke-linejoin="round" stroke-dasharray="14.2 6"/>
<path d="M349.7 404.46V412.46M346.9 404.46h5.6M346.9 412.46h5.6M355.91 390.9V400.9M353.11 390.9h5.6M353.11 400.9h5.6M368.33 368.18V382.18M365.53 368.18h5.6M365.53 382.18h5.6M393.17 348.78V364.58M390.37 348.78h5.6M390.37 364.58h5.6M436.64 339.26V354.06M433.84 339.26h5.6M433.84 354.06h5.6M480.11 336.85V352.05M477.31 336.85h5.6M477.31 352.05h5.6M523.58 334.87V349.27M520.78 334.87h5.6M520.78 349.27h5.6" fill="none" stroke="#1a1a1a" stroke-width="1.1"/>
<circle cx="348.7" cy="407.66" r="2.9" fill="#C00000"/>
<circle cx="354.91" cy="395.1" r="2.9" fill="#C00000"/>
<circle cx="367.33" cy="374.38" r="2.9" fill="#C00000"/>
<circle cx="392.17" cy="355.88" r="2.9" fill="#C00000"/>
<circle cx="435.64" cy="345.86" r="2.9" fill="#C00000"/>
<circle cx="479.11" cy="343.65" r="2.9" fill="#C00000"/>
<circle cx="522.58" cy="341.27" r="2.9" fill="#C00000"/>
</svg>
</body></html>
